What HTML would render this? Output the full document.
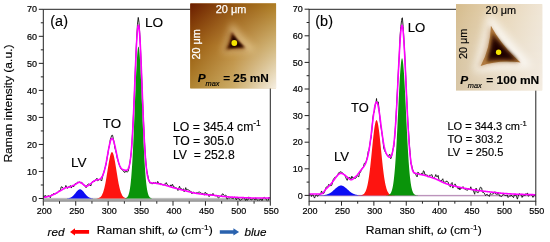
<!DOCTYPE html>
<html><head><meta charset="utf-8"><style>
html,body{margin:0;padding:0;background:#fff;width:550px;height:242px;overflow:hidden}
svg{display:block;will-change:transform}
text{font-family:"Liberation Sans",sans-serif;stroke:#000;stroke-width:0.15} text.k{stroke-width:0.2}
</style></head><body>
<svg width="550" height="242" viewBox="0 0 550 242" fill="#000">
<clipPath id="clip1"><rect x="43.3" y="9.3" width="227.0" height="191.89999999999998"/></clipPath>
<g clip-path="url(#clip1)">
<rect x="43.3" y="197.8" width="227.0" height="0.8" fill="#d4d4d4"/><rect x="43.3" y="198.4" width="227.0" height="3.1" fill="#a8a8a8"/>
<path d="M62.37,198.5 L62.81,198.5 L63.25,198.49 L63.69,198.49 L64.13,198.49 L64.57,198.48 L65.01,198.47 L65.46,198.46 L65.9,198.45 L66.34,198.42 L66.78,198.4 L67.22,198.36 L67.66,198.32 L68.1,198.26 L68.54,198.19 L68.98,198.1 L69.42,197.98 L69.87,197.85 L70.31,197.68 L70.75,197.49 L71.19,197.26 L71.63,196.99 L72.07,196.68 L72.51,196.33 L72.95,195.94 L73.39,195.52 L73.83,195.05 L74.28,194.55 L74.72,194.03 L75.16,193.48 L75.6,192.93 L76.04,192.37 L76.48,191.83 L76.92,191.31 L77.36,190.82 L77.8,190.39 L78.25,190.02 L78.69,189.71 L79.13,189.49 L79.57,189.36 L80.01,189.31 L80.45,189.36 L80.89,189.49 L81.33,189.71 L81.77,190.02 L82.21,190.39 L82.66,190.82 L83.1,191.31 L83.54,191.83 L83.98,192.37 L84.42,192.93 L84.86,193.48 L85.3,194.03 L85.74,194.55 L86.18,195.05 L86.62,195.52 L87.07,195.94 L87.51,196.33 L87.95,196.68 L88.39,196.99 L88.83,197.26 L89.27,197.49 L89.71,197.68 L90.15,197.85 L90.59,197.98 L91.03,198.1 L91.48,198.19 L91.92,198.26 L92.36,198.32 L92.8,198.36 L93.24,198.4 L93.68,198.42 L94.12,198.45 L94.56,198.46 L95,198.47 L95.45,198.48 L95.89,198.49 L96.33,198.49 L96.77,198.49 L97.21,198.5 L97.65,198.5 L97.65,198.5 L62.37,198.5 Z" fill="#0c0cf4"/>
<path d="M94.34,198.48 L94.78,198.48 L95.22,198.47 L95.67,198.45 L96.11,198.43 L96.55,198.4 L96.99,198.36 L97.43,198.3 L97.87,198.22 L98.31,198.12 L98.75,197.98 L99.19,197.81 L99.63,197.58 L100.08,197.29 L100.52,196.92 L100.96,196.46 L101.4,195.89 L101.84,195.2 L102.28,194.37 L102.72,193.37 L103.16,192.21 L103.6,190.85 L104.05,189.3 L104.49,187.54 L104.93,185.57 L105.37,183.41 L105.81,181.05 L106.25,178.53 L106.69,175.87 L107.13,173.11 L107.57,170.3 L108.01,167.49 L108.46,164.74 L108.9,162.11 L109.34,159.67 L109.78,157.47 L110.22,155.58 L110.66,154.05 L111.1,152.93 L111.54,152.24 L111.98,152.01 L112.42,152.24 L112.87,152.93 L113.31,154.05 L113.75,155.58 L114.19,157.47 L114.63,159.67 L115.07,162.11 L115.51,164.74 L115.95,167.49 L116.39,170.3 L116.84,173.11 L117.28,175.87 L117.72,178.53 L118.16,181.05 L118.6,183.41 L119.04,185.57 L119.48,187.54 L119.92,189.3 L120.36,190.85 L120.8,192.21 L121.25,193.37 L121.69,194.37 L122.13,195.2 L122.57,195.89 L123.01,196.46 L123.45,196.92 L123.89,197.29 L124.33,197.58 L124.77,197.81 L125.21,197.98 L125.66,198.12 L126.1,198.22 L126.54,198.3 L126.98,198.36 L127.42,198.4 L127.86,198.43 L128.3,198.45 L128.74,198.47 L129.18,198.48 L129.62,198.48 L129.62,198.5 L94.34,198.5 Z" fill="#fe1410"/>
<path d="M123.92,198.45 L124.28,198.42 L124.64,198.39 L125.01,198.34 L125.37,198.27 L125.73,198.17 L126.1,198.03 L126.46,197.84 L126.82,197.59 L127.19,197.26 L127.55,196.81 L127.91,196.23 L128.28,195.49 L128.64,194.53 L129,193.33 L129.37,191.83 L129.73,189.97 L130.09,187.71 L130.46,184.99 L130.82,181.75 L131.18,177.94 L131.54,173.51 L131.91,168.44 L132.27,162.69 L132.63,156.26 L133,149.18 L133.36,141.49 L133.72,133.25 L134.09,124.56 L134.45,115.55 L134.81,106.36 L135.18,97.18 L135.54,88.19 L135.9,79.6 L136.27,71.62 L136.63,64.44 L136.99,58.27 L137.36,53.28 L137.72,49.6 L138.08,47.35 L138.45,46.59 L138.81,47.35 L139.17,49.6 L139.54,53.28 L139.9,58.27 L140.26,64.44 L140.62,71.62 L140.99,79.6 L141.35,88.19 L141.71,97.18 L142.08,106.36 L142.44,115.55 L142.8,124.56 L143.17,133.25 L143.53,141.49 L143.89,149.18 L144.26,156.26 L144.62,162.69 L144.98,168.44 L145.35,173.51 L145.71,177.94 L146.07,181.75 L146.44,184.99 L146.8,187.71 L147.16,189.97 L147.53,191.83 L147.89,193.33 L148.25,194.53 L148.62,195.49 L148.98,196.23 L149.34,196.81 L149.7,197.26 L150.07,197.59 L150.43,197.84 L150.79,198.03 L151.16,198.17 L151.52,198.27 L151.88,198.34 L152.25,198.39 L152.61,198.42 L152.97,198.45 L152.97,198.5 L123.92,198.5 Z" fill="#0a940a"/>
<path d="M43.3,196.87 L44.08,195.55 L44.86,197.26 L45.63,195.38 L46.41,196.73 L47.19,196.55 L47.97,195.52 L48.75,196.04 L49.53,196.3 L50.3,197.75 L51.08,195.17 L51.86,194.77 L52.64,194.66 L53.42,193.55 L54.2,193.94 L54.97,193.66 L55.75,193.95 L56.53,192.96 L57.31,192.83 L58.09,192.07 L58.87,190.74 L59.64,191.01 L60.42,189.86 L61.2,186.95 L61.98,186.75 L62.76,188.04 L63.54,188.43 L64.31,188.73 L65.09,188.26 L65.87,185.44 L66.65,187.1 L67.43,188.43 L68.21,187.14 L68.98,186.41 L69.76,186.32 L70.54,185.68 L71.32,188.06 L72.1,186.3 L72.87,185.94 L73.65,186.86 L74.43,184.84 L75.21,183.5 L75.99,183.73 L76.77,183.7 L77.54,182.12 L78.32,182.33 L79.1,182.18 L79.88,181.93 L80.66,183.19 L81.44,182.28 L82.21,182.89 L82.99,183.62 L83.77,185.29 L84.55,185 L85.33,186.85 L86.11,187.7 L86.88,185.38 L87.66,184.45 L88.44,184.02 L89.22,184.58 L90,185.03 L90.78,186.03 L91.55,183.13 L92.33,181.67 L93.11,180.9 L93.89,181.64 L94.67,181.47 L95.45,180.14 L96.22,178.98 L97,178.2 L97.78,180.81 L98.56,180.29 L99.34,179.05 L100.11,179.85 L100.89,179.9 L101.67,180.93 L102.45,177.17 L103.23,173.79 L104.01,171.72 L104.78,168.73 L105.56,166.15 L106.34,162.87 L107.12,157.7 L107.9,153.79 L108.68,148.47 L109.45,145.7 L110.23,139.92 L111.01,137.43 L111.79,135.31 L111.98,135.05 L112.57,135.27 L113.35,138.81 L114.12,142.53 L114.9,148.11 L115.68,150.42 L116.46,153.73 L117.24,158.17 L118.02,160.43 L118.79,163.39 L119.57,165.28 L120.35,167.35 L121.13,169.05 L121.91,169.28 L122.69,170.56 L123.46,171 L124.24,172.24 L124.37,172.32 L125.02,172.5 L125.8,169.98 L126.58,171.9 L127.35,171.91 L128.13,171.36 L128.91,168.22 L129.69,163.61 L130.47,158.83 L131.25,152.82 L132.02,142.12 L132.8,128.57 L133.58,112.12 L134.36,94.1 L135.14,74.53 L135.92,54.94 L136.69,37.93 L137.47,24.38 L138.25,17.41 L138.32,17.64 L139.03,22.45 L139.81,34.43 L140.59,50.58 L141.36,69.29 L142.14,89.3 L142.92,108.26 L143.7,124.62 L144.48,141.41 L145.26,154.26 L146.03,163.94 L146.81,170.89 L147.59,174.55 L148.37,178.38 L149.15,181.07 L149.93,183.31 L150.7,182.85 L151.48,183.56 L152.26,183.99 L153.04,182.93 L153.82,182.32 L154.59,183.09 L155.37,182.46 L156.15,183.1 L156.93,183.66 L157.71,181.39 L158.49,183.19 L159.26,183.77 L160.04,183.05 L160.82,184.61 L161.6,183.87 L162.38,184.84 L163.16,184.77 L163.93,184.89 L164.71,183.86 L165.49,184.28 L166.27,182.6 L167.05,184.36 L167.83,184.95 L168.6,185.58 L169.38,186.26 L170.16,185.98 L170.94,184.79 L171.72,186.34 L172.5,184.27 L173.27,185.88 L174.05,187.22 L174.83,187.16 L175.61,187.72 L176.39,187.95 L177.17,188.45 L177.94,190.55 L178.72,188.29 L179.5,186.23 L180.28,188.43 L181.06,188.34 L181.83,189.08 L182.61,189.56 L183.39,188.69 L184.17,191.81 L184.95,190.11 L185.73,187.62 L186.5,189.91 L187.28,189.47 L188.06,190.02 L188.84,189.95 L189.62,190.66 L190.4,191.3 L191.17,191.39 L191.95,193.85 L192.73,192.45 L193.51,192.24 L194.29,192.46 L195.07,193.52 L195.84,193.3 L196.62,192.67 L197.4,192.77 L198.18,192.18 L198.96,192.46 L199.74,191.98 L200.51,192.52 L201.29,193.2 L202.07,193.77 L202.85,193.18 L203.63,194.47 L204.41,195.04 L205.18,192.2 L205.96,193.41 L206.74,193.5 L207.52,194.02 L208.3,194.58 L209.07,196.68 L209.85,195.67 L210.63,194.39 L211.41,194.69 L212.19,195.26 L212.97,193.4 L213.74,195.5 L214.52,195.47 L215.3,196.08 L216.08,195.17 L216.86,196.03 L217.64,197.11 L218.41,197.98 L219.19,197.21 L219.97,196.86 L220.75,196.17 L221.53,195.82 L222.31,193.93 L223.08,193.9 L223.86,195.27 L224.64,195.87 L225.42,195.29 L226.2,195.4 L226.98,199.18 L227.75,198.64 L228.53,197.79 L229.31,198.43 L230.09,197.38 L230.87,197.83 L231.65,198.03 L232.42,198.22 L233.2,198.76 L233.98,197.25 L234.76,197.19 L235.54,197.9 L236.31,199.89 L237.09,198.34 L237.87,197.77 L238.65,198.87 L239.43,198.99 L240.21,200.96 L240.98,200.3 L241.76,199.25 L242.54,198.61 L243.32,198.21 L244.1,197.36 L244.88,199.14 L245.65,200.95 L246.43,198.66 L247.21,200.44 L247.99,199.98 L248.77,196.88 L249.55,197.9 L250.32,199.31 L251.1,200.1 L251.88,199.47 L252.66,199.13 L253.44,198.04 L254.22,199.28 L254.99,200.22 L255.77,197.82 L256.55,198.79 L257.33,200.45 L258.11,200.53 L258.89,199.69 L259.66,200.39 L260.44,199.07 L261.22,199.27 L262,201.03 L262.78,198.6 L263.55,197.88 L264.33,197.37 L265.11,198.26 L265.89,198.69 L266.67,200.25 L267.45,201.86 L268.22,200.56 L269,197.03 L269.78,198.09" fill="none" stroke="#111" stroke-width="0.9" stroke-linejoin="round"/>
<path d="M43.3,197.36 L43.62,197.33 L43.95,197.29 L44.27,197.25 L44.6,197.21 L44.92,197.16 L45.25,197.11 L45.57,197.05 L45.89,196.99 L46.22,196.93 L46.54,196.86 L46.87,196.79 L47.19,196.72 L47.52,196.65 L47.84,196.58 L48.16,196.5 L48.49,196.42 L48.81,196.34 L49.14,196.27 L49.46,196.19 L49.79,196.1 L50.11,196 L50.43,195.89 L50.76,195.77 L51.08,195.64 L51.41,195.51 L51.73,195.37 L52.06,195.22 L52.38,195.07 L52.7,194.92 L53.03,194.76 L53.35,194.6 L53.68,194.44 L54,194.28 L54.33,194.13 L54.65,193.97 L54.97,193.8 L55.3,193.63 L55.62,193.46 L55.95,193.28 L56.27,193.1 L56.6,192.91 L56.92,192.73 L57.24,192.54 L57.57,192.35 L57.89,192.15 L58.22,191.96 L58.54,191.77 L58.87,191.58 L59.19,191.39 L59.51,191.21 L59.84,191.03 L60.16,190.85 L60.49,190.68 L60.81,190.5 L61.14,190.32 L61.46,190.13 L61.78,189.92 L62.11,189.72 L62.43,189.5 L62.76,189.29 L63.08,189.08 L63.41,188.87 L63.73,188.67 L64.05,188.48 L64.38,188.3 L64.7,188.13 L65.03,187.98 L65.35,187.84 L65.68,187.72 L66,187.63 L66.32,187.56 L66.65,187.51 L66.97,187.48 L67.3,187.46 L67.62,187.43 L67.95,187.39 L68.27,187.35 L68.59,187.3 L68.92,187.24 L69.24,187.17 L69.57,187.09 L69.89,186.99 L70.22,186.89 L70.54,186.77 L70.86,186.63 L71.19,186.47 L71.51,186.29 L71.84,186.1 L72.16,185.89 L72.49,185.72 L72.81,185.57 L73.13,185.44 L73.46,185.33 L73.78,185.21 L74.11,185.1 L74.43,184.97 L74.76,184.82 L75.08,184.64 L75.4,184.44 L75.73,184.2 L76.05,183.95 L76.38,183.7 L76.7,183.46 L77.03,183.24 L77.35,183.04 L77.67,182.85 L78,182.69 L78.32,182.55 L78.65,182.44 L78.97,182.35 L79.3,182.3 L79.62,182.27 L79.94,182.3 L80.27,182.37 L80.59,182.48 L80.92,182.64 L81.24,182.83 L81.57,183.06 L81.89,183.31 L82.21,183.57 L82.54,183.84 L82.86,184.1 L83.19,184.37 L83.51,184.63 L83.84,184.88 L84.16,185.13 L84.48,185.37 L84.81,185.59 L85.13,185.81 L85.46,186.01 L85.78,186.19 L86.11,186.3 L86.43,186.34 L86.75,186.3 L87.08,186.21 L87.4,186.07 L87.73,185.88 L88.05,185.65 L88.38,185.4 L88.7,185.12 L89.02,184.84 L89.35,184.55 L89.67,184.27 L90,184.01 L90.32,183.77 L90.65,183.57 L90.97,183.37 L91.29,183.15 L91.62,182.91 L91.94,182.67 L92.27,182.42 L92.59,182.17 L92.92,181.91 L93.24,181.66 L93.56,181.42 L93.89,181.19 L94.21,180.96 L94.54,180.76 L94.86,180.57 L95.19,180.4 L95.51,180.25 L95.83,180.12 L96.16,180.02 L96.48,179.95 L96.81,179.9 L97.13,179.87 L97.46,179.83 L97.78,179.79 L98.1,179.73 L98.43,179.66 L98.75,179.58 L99.08,179.47 L99.4,179.34 L99.73,179.18 L100.05,178.99 L100.37,178.76 L100.7,178.48 L101.02,178.15 L101.35,177.77 L101.67,177.32 L102,176.79 L102.32,176.2 L102.64,175.55 L102.97,174.82 L103.29,174.02 L103.62,173.13 L103.94,172.15 L104.27,171.07 L104.59,169.89 L104.91,168.61 L105.24,167.24 L105.56,165.76 L105.89,164.2 L106.21,162.55 L106.54,160.83 L106.86,159.05 L107.18,157.22 L107.51,155.37 L107.83,153.51 L108.16,151.66 L108.48,149.85 L108.81,148.09 L109.13,146.42 L109.45,144.86 L109.78,143.42 L110.1,142.14 L110.43,141.02 L110.75,140.09 L111.08,139.37 L111.4,138.86 L111.72,138.57 L112.05,138.5 L112.37,138.64 L112.7,138.97 L113.02,139.5 L113.35,140.21 L113.67,141.1 L113.99,142.14 L114.32,143.33 L114.64,144.64 L114.97,146.05 L115.29,147.54 L115.62,149.08 L115.94,150.67 L116.26,152.26 L116.59,153.84 L116.91,155.4 L117.24,156.91 L117.56,158.36 L117.89,159.74 L118.21,161.03 L118.53,162.23 L118.86,163.32 L119.18,164.32 L119.51,165.21 L119.83,166.01 L120.16,166.7 L120.48,167.3 L120.8,167.81 L121.13,168.24 L121.45,168.6 L121.78,168.89 L122.1,169.13 L122.43,169.32 L122.75,169.48 L123.07,169.6 L123.4,169.71 L123.72,169.81 L124.05,169.91 L124.37,170.01 L124.7,170.12 L125.02,170.22 L125.34,170.29 L125.67,170.33 L125.99,170.34 L126.32,170.31 L126.64,170.23 L126.97,170.09 L127.29,169.88 L127.61,169.58 L127.94,169.17 L128.26,168.63 L128.59,167.93 L128.91,167.04 L129.24,165.93 L129.56,164.56 L129.88,162.89 L130.21,160.88 L130.53,158.5 L130.86,155.69 L131.18,152.44 L131.51,148.69 L131.83,144.43 L132.15,139.65 L132.48,134.32 L132.8,128.47 L133.13,122.11 L133.45,115.27 L133.78,108.02 L134.1,100.43 L134.42,92.58 L134.75,84.58 L135.07,76.56 L135.4,68.65 L135.72,60.99 L136.05,53.72 L136.37,47 L136.69,40.98 L137.02,35.77 L137.34,31.51 L137.67,28.29 L137.99,26.19 L138.32,25.27 L138.64,25.55 L138.96,27.05 L139.29,29.73 L139.61,33.52 L139.94,38.36 L140.26,44.12 L140.59,50.7 L140.91,57.94 L141.23,65.7 L141.56,73.84 L141.88,82.2 L142.21,90.65 L142.53,99.04 L142.86,107.27 L143.18,115.22 L143.5,122.81 L143.83,129.96 L144.15,136.63 L144.48,142.78 L144.8,148.39 L145.13,153.45 L145.45,157.97 L145.77,161.97 L146.1,165.48 L146.42,168.53 L146.75,171.14 L147.07,173.38 L147.4,175.26 L147.72,176.84 L148.04,178.14 L148.37,179.21 L148.69,180.07 L149.02,180.76 L149.34,181.3 L149.67,181.72 L149.99,182.05 L150.31,182.31 L150.64,182.51 L150.96,182.67 L151.29,182.79 L151.61,182.88 L151.94,182.95 L152.26,183 L152.58,183.04 L152.91,183.07 L153.23,183.1 L153.56,183.13 L153.88,183.15 L154.21,183.17 L154.53,183.2 L154.85,183.22 L155.18,183.25 L155.5,183.28 L155.83,183.32 L156.15,183.36 L156.48,183.4 L156.8,183.45 L157.12,183.5 L157.45,183.55 L157.77,183.6 L158.1,183.66 L158.42,183.72 L158.75,183.78 L159.07,183.85 L159.39,183.91 L159.72,183.98 L160.04,184.05 L160.37,184.12 L160.69,184.19 L161.02,184.26 L161.34,184.34 L161.66,184.41 L161.99,184.49 L162.31,184.56 L162.64,184.64 L162.96,184.71 L163.29,184.79 L163.61,184.86 L163.93,184.93 L164.26,185.01 L164.58,185.09 L164.91,185.17 L165.23,185.26 L165.56,185.34 L165.88,185.43 L166.2,185.52 L166.53,185.62 L166.85,185.71 L167.18,185.81 L167.5,185.91 L167.83,186.01 L168.15,186.11 L168.47,186.21 L168.8,186.32 L169.12,186.42 L169.45,186.52 L169.77,186.63 L170.1,186.73 L170.42,186.83 L170.74,186.94 L171.07,187.04 L171.39,187.14 L171.72,187.24 L172.04,187.34 L172.37,187.44 L172.69,187.54 L173.01,187.63 L173.34,187.72 L173.66,187.82 L173.99,187.9 L174.31,187.99 L174.64,188.08 L174.96,188.16 L175.28,188.25 L175.61,188.33 L175.93,188.42 L176.26,188.5 L176.58,188.58 L176.91,188.66 L177.23,188.74 L177.55,188.83 L177.88,188.91 L178.2,188.99 L178.53,189.07 L178.85,189.15 L179.18,189.23 L179.5,189.3 L179.82,189.38 L180.15,189.46 L180.47,189.54 L180.8,189.62 L181.12,189.7 L181.45,189.78 L181.77,189.86 L182.09,189.94 L182.42,190.02 L182.74,190.1 L183.07,190.18 L183.39,190.26 L183.72,190.34 L184.04,190.42 L184.36,190.51 L184.69,190.59 L185.01,190.68 L185.34,190.76 L185.66,190.85 L185.99,190.94 L186.31,191.03 L186.63,191.12 L186.96,191.21 L187.28,191.3 L187.61,191.39 L187.93,191.48 L188.26,191.57 L188.58,191.66 L188.9,191.75 L189.23,191.83 L189.55,191.92 L189.88,192.01 L190.2,192.09 L190.53,192.18 L190.85,192.26 L191.17,192.34 L191.5,192.42 L191.82,192.49 L192.15,192.57 L192.47,192.64 L192.8,192.71 L193.12,192.78 L193.44,192.84 L193.77,192.9 L194.09,192.97 L194.42,193.02 L194.74,193.08 L195.07,193.14 L195.39,193.2 L195.71,193.25 L196.04,193.31 L196.36,193.36 L196.69,193.42 L197.01,193.47 L197.34,193.52 L197.66,193.57 L197.98,193.62 L198.31,193.67 L198.63,193.72 L198.96,193.77 L199.28,193.81 L199.61,193.86 L199.93,193.9 L200.25,193.95 L200.58,193.99 L200.9,194.04 L201.23,194.08 L201.55,194.12 L201.88,194.16 L202.2,194.2 L202.52,194.24 L202.85,194.28 L203.17,194.32 L203.5,194.35 L203.82,194.39 L204.15,194.43 L204.47,194.46 L204.79,194.5 L205.12,194.53 L205.44,194.56 L205.77,194.59 L206.09,194.62 L206.42,194.65 L206.74,194.68 L207.06,194.71 L207.39,194.74 L207.71,194.76 L208.04,194.79 L208.36,194.82 L208.69,194.84 L209.01,194.87 L209.33,194.9 L209.66,194.92 L209.98,194.95 L210.31,194.97 L210.63,195 L210.96,195.03 L211.28,195.06 L211.6,195.08 L211.93,195.11 L212.25,195.14 L212.58,195.17 L212.9,195.2 L213.23,195.23 L213.55,195.26 L213.87,195.3 L214.2,195.33 L214.52,195.37 L214.85,195.4 L215.17,195.44 L215.5,195.48 L215.82,195.52 L216.14,195.56 L216.47,195.6 L216.79,195.64 L217.12,195.69 L217.44,195.73 L217.77,195.77 L218.09,195.82 L218.41,195.86 L218.74,195.9 L219.06,195.94 L219.39,195.99 L219.71,196.03 L220.04,196.07 L220.36,196.11 L220.68,196.15 L221.01,196.19 L221.33,196.23 L221.66,196.27 L221.98,196.3 L222.31,196.33 L222.63,196.37 L222.95,196.4 L223.28,196.43 L223.6,196.46 L223.93,196.49 L224.25,196.52 L224.58,196.54 L224.9,196.57 L225.22,196.6 L225.55,196.63 L225.87,196.65 L226.2,196.68 L226.52,196.71 L226.85,196.73 L227.17,196.76 L227.49,196.78 L227.82,196.81 L228.14,196.83 L228.47,196.86 L228.79,196.88 L229.12,196.9 L229.44,196.93 L229.76,196.95 L230.09,196.97 L230.41,196.99 L230.74,197.02 L231.06,197.04 L231.39,197.06 L231.71,197.08 L232.03,197.1 L232.36,197.12 L232.68,197.14 L233.01,197.16 L233.33,197.18 L233.66,197.2 L233.98,197.21 L234.3,197.23 L234.63,197.25 L234.95,197.27 L235.28,197.28 L235.6,197.3 L235.93,197.32 L236.25,197.33 L236.57,197.35 L236.9,197.36 L237.22,197.38 L237.55,197.4 L237.87,197.41 L238.2,197.43 L238.52,197.44 L238.84,197.46 L239.17,197.47 L239.49,197.48 L239.82,197.5 L240.14,197.51 L240.47,197.53 L240.79,197.54 L241.11,197.55 L241.44,197.57 L241.76,197.58 L242.09,197.59 L242.41,197.6 L242.74,197.62 L243.06,197.63 L243.38,197.64 L243.71,197.65 L244.03,197.67 L244.36,197.68 L244.68,197.69 L245.01,197.7 L245.33,197.71 L245.65,197.73 L245.98,197.74 L246.3,197.75 L246.63,197.76 L246.95,197.78 L247.28,197.79 L247.6,197.8 L247.92,197.82 L248.25,197.83 L248.57,197.84 L248.9,197.85 L249.22,197.87 L249.55,197.88 L249.87,197.89 L250.19,197.9 L250.52,197.91 L250.84,197.92 L251.17,197.94 L251.49,197.95 L251.82,197.95 L252.14,197.96 L252.46,197.97 L252.79,197.98 L253.11,197.99 L253.44,197.99 L253.76,198 L254.09,198 L254.41,198.01 L254.73,198.01 L255.06,198.01 L255.38,198.01 L255.71,198.01 L256.03,198.01 L256.36,198.01 L256.68,198.01 L257,198.01 L257.33,198.01 L257.65,198.01 L257.98,198.01 L258.3,198.01 L258.63,198.01 L258.95,198.01 L259.27,198.01 L259.6,198.01 L259.92,198.01 L260.25,198.01 L260.57,198.01 L260.9,198.01 L261.22,198.01 L261.54,198.01 L261.87,198.01 L262.19,198.01 L262.52,198.01 L262.84,198.01 L263.17,198.01 L263.49,198.01 L263.81,198.01 L264.14,198.01 L264.46,198.01 L264.79,198.01 L265.11,198.01 L265.44,198.01 L265.76,198.01 L266.08,198.01 L266.41,198.01 L266.73,198.01 L267.06,198.01 L267.38,198.01 L267.71,198.01 L268.03,198.01 L268.35,198.01 L268.68,198.01 L269,198.01 L269.33,198.01 L269.65,198.01 L269.98,198.01 L270.3,198.01" fill="none" stroke="#ff00ff" stroke-width="1.6" stroke-linejoin="round"/>
</g>
<path d="M43.3,201.2 V9.3 H270.3 V201.2" fill="none" stroke="#222" stroke-width="1"/>
<line x1="42.8" y1="201.2" x2="270.8" y2="201.2" stroke="#8c8c8c" stroke-width="1"/>
<line x1="38.8" y1="198.5" x2="43.3" y2="198.5" stroke="#222" stroke-width="1"/>
<text x="37" y="201.7" text-anchor="end" font-size="9" class="k">0</text>
<line x1="40.8" y1="184.99" x2="43.3" y2="184.99" stroke="#222" stroke-width="1"/>
<line x1="38.8" y1="171.47" x2="43.3" y2="171.47" stroke="#222" stroke-width="1"/>
<text x="37" y="174.67" text-anchor="end" font-size="9" class="k">10</text>
<line x1="40.8" y1="157.96" x2="43.3" y2="157.96" stroke="#222" stroke-width="1"/>
<line x1="38.8" y1="144.44" x2="43.3" y2="144.44" stroke="#222" stroke-width="1"/>
<text x="37" y="147.64" text-anchor="end" font-size="9" class="k">20</text>
<line x1="40.8" y1="130.93" x2="43.3" y2="130.93" stroke="#222" stroke-width="1"/>
<line x1="38.8" y1="117.41" x2="43.3" y2="117.41" stroke="#222" stroke-width="1"/>
<text x="37" y="120.61" text-anchor="end" font-size="9" class="k">30</text>
<line x1="40.8" y1="103.9" x2="43.3" y2="103.9" stroke="#222" stroke-width="1"/>
<line x1="38.8" y1="90.38" x2="43.3" y2="90.38" stroke="#222" stroke-width="1"/>
<text x="37" y="93.58" text-anchor="end" font-size="9" class="k">40</text>
<line x1="40.8" y1="76.87" x2="43.3" y2="76.87" stroke="#222" stroke-width="1"/>
<line x1="38.8" y1="63.35" x2="43.3" y2="63.35" stroke="#222" stroke-width="1"/>
<text x="37" y="66.55" text-anchor="end" font-size="9" class="k">50</text>
<line x1="40.8" y1="49.84" x2="43.3" y2="49.84" stroke="#222" stroke-width="1"/>
<line x1="38.8" y1="36.32" x2="43.3" y2="36.32" stroke="#222" stroke-width="1"/>
<text x="37" y="39.52" text-anchor="end" font-size="9" class="k">60</text>
<line x1="40.8" y1="22.81" x2="43.3" y2="22.81" stroke="#222" stroke-width="1"/>
<line x1="38.8" y1="9.29" x2="43.3" y2="9.29" stroke="#222" stroke-width="1"/>
<text x="37" y="12.49" text-anchor="end" font-size="9" class="k">70</text>
<line x1="43.3" y1="201.2" x2="43.3" y2="205.7" stroke="#222" stroke-width="1"/>
<text x="44.3" y="214.3" text-anchor="middle" font-size="9" class="k">200</text>
<line x1="59.51" y1="201.2" x2="59.51" y2="203.7" stroke="#222" stroke-width="1"/>
<line x1="75.73" y1="201.2" x2="75.73" y2="205.7" stroke="#222" stroke-width="1"/>
<text x="76.73" y="214.3" text-anchor="middle" font-size="9" class="k">250</text>
<line x1="91.94" y1="201.2" x2="91.94" y2="203.7" stroke="#222" stroke-width="1"/>
<line x1="108.16" y1="201.2" x2="108.16" y2="205.7" stroke="#222" stroke-width="1"/>
<text x="109.16" y="214.3" text-anchor="middle" font-size="9" class="k">300</text>
<line x1="124.37" y1="201.2" x2="124.37" y2="203.7" stroke="#222" stroke-width="1"/>
<line x1="140.59" y1="201.2" x2="140.59" y2="205.7" stroke="#222" stroke-width="1"/>
<text x="141.59" y="214.3" text-anchor="middle" font-size="9" class="k">350</text>
<line x1="156.8" y1="201.2" x2="156.8" y2="203.7" stroke="#222" stroke-width="1"/>
<line x1="173.01" y1="201.2" x2="173.01" y2="205.7" stroke="#222" stroke-width="1"/>
<text x="174.01" y="214.3" text-anchor="middle" font-size="9" class="k">400</text>
<line x1="189.23" y1="201.2" x2="189.23" y2="203.7" stroke="#222" stroke-width="1"/>
<line x1="205.44" y1="201.2" x2="205.44" y2="205.7" stroke="#222" stroke-width="1"/>
<text x="206.44" y="214.3" text-anchor="middle" font-size="9" class="k">450</text>
<line x1="221.66" y1="201.2" x2="221.66" y2="203.7" stroke="#222" stroke-width="1"/>
<line x1="237.87" y1="201.2" x2="237.87" y2="205.7" stroke="#222" stroke-width="1"/>
<text x="238.87" y="214.3" text-anchor="middle" font-size="9" class="k">500</text>
<line x1="254.09" y1="201.2" x2="254.09" y2="203.7" stroke="#222" stroke-width="1"/>
<line x1="270.3" y1="201.2" x2="270.3" y2="205.7" stroke="#222" stroke-width="1"/>
<text x="271.3" y="214.3" text-anchor="middle" font-size="9" class="k">550</text>
<text transform="translate(50.3,26.2) scale(0.95,1)" font-size="15.2">(a)</text>
<text transform="translate(144.9,27.1) scale(1.08,1)" font-size="12.6">LO</text>
<text transform="translate(102.8,127.7) scale(1.05,1)" font-size="12.7">TO</text>
<text transform="translate(71.1,167.4) scale(1.07,1)" font-size="12.6">LV</text>
<text x="173" y="130.8" font-size="12.2">LO = 345.4 cm<tspan dy="-4.9" font-size="8.5">-1</tspan></text><text x="173" y="144.7" font-size="12.2">TO = 305.0</text><text x="173" y="158.6" font-size="12.2" xml:space="preserve">LV  = 252.8</text>
<clipPath id="ica"><rect x="190.2" y="3.2" width="86" height="85.3"/></clipPath>
<g clip-path="url(#ica)">
<defs><linearGradient id="ma0"><stop offset="0" stop-color="#6b1d00"/><stop offset=".5" stop-color="#925511"/><stop offset="1" stop-color="#ae7d23"/></linearGradient><linearGradient id="ma1"><stop offset="0" stop-color="#6c1e00"/><stop offset=".5" stop-color="#935612"/><stop offset="1" stop-color="#af7e25"/></linearGradient><linearGradient id="ma2"><stop offset="0" stop-color="#6d2001"/><stop offset=".5" stop-color="#945713"/><stop offset="1" stop-color="#b08027"/></linearGradient><linearGradient id="ma3"><stop offset="0" stop-color="#6e2101"/><stop offset=".5" stop-color="#955814"/><stop offset="1" stop-color="#b1812a"/></linearGradient><linearGradient id="ma4"><stop offset="0" stop-color="#6f2301"/><stop offset=".5" stop-color="#965a15"/><stop offset="1" stop-color="#b2822c"/></linearGradient><linearGradient id="ma5"><stop offset="0" stop-color="#702402"/><stop offset=".5" stop-color="#975b16"/><stop offset="1" stop-color="#b3842e"/></linearGradient><linearGradient id="ma6"><stop offset="0" stop-color="#712502"/><stop offset=".5" stop-color="#985c17"/><stop offset="1" stop-color="#b48530"/></linearGradient><linearGradient id="ma7"><stop offset="0" stop-color="#722702"/><stop offset=".5" stop-color="#995e18"/><stop offset="1" stop-color="#b48732"/></linearGradient><linearGradient id="ma8"><stop offset="0" stop-color="#732803"/><stop offset=".5" stop-color="#9a5f19"/><stop offset="1" stop-color="#b58834"/></linearGradient><linearGradient id="ma9"><stop offset="0" stop-color="#742a03"/><stop offset=".5" stop-color="#9b601a"/><stop offset="1" stop-color="#b68937"/></linearGradient><linearGradient id="ma10"><stop offset="0" stop-color="#752b03"/><stop offset=".5" stop-color="#9c611b"/><stop offset="1" stop-color="#b78b39"/></linearGradient><linearGradient id="ma11"><stop offset="0" stop-color="#762d04"/><stop offset=".5" stop-color="#9d631c"/><stop offset="1" stop-color="#b88c3b"/></linearGradient><linearGradient id="ma12"><stop offset="0" stop-color="#782e04"/><stop offset=".5" stop-color="#9e641d"/><stop offset="1" stop-color="#b98e3d"/></linearGradient><linearGradient id="ma13"><stop offset="0" stop-color="#793004"/><stop offset=".5" stop-color="#9f651e"/><stop offset="1" stop-color="#b98f3f"/></linearGradient><linearGradient id="ma14"><stop offset="0" stop-color="#7a3105"/><stop offset=".5" stop-color="#a0661f"/><stop offset="1" stop-color="#ba9041"/></linearGradient><linearGradient id="ma15"><stop offset="0" stop-color="#7b3305"/><stop offset=".5" stop-color="#a16820"/><stop offset="1" stop-color="#bb9244"/></linearGradient><linearGradient id="ma16"><stop offset="0" stop-color="#7c3405"/><stop offset=".5" stop-color="#a26921"/><stop offset="1" stop-color="#bc9346"/></linearGradient><linearGradient id="ma17"><stop offset="0" stop-color="#7d3606"/><stop offset=".5" stop-color="#a36a22"/><stop offset="1" stop-color="#bd9548"/></linearGradient><linearGradient id="ma18"><stop offset="0" stop-color="#7e3706"/><stop offset=".5" stop-color="#a46c23"/><stop offset="1" stop-color="#be964a"/></linearGradient><linearGradient id="ma19"><stop offset="0" stop-color="#7f3806"/><stop offset=".5" stop-color="#a56d24"/><stop offset="1" stop-color="#bf984c"/></linearGradient><linearGradient id="ma20"><stop offset="0" stop-color="#803a07"/><stop offset=".5" stop-color="#a66e25"/><stop offset="1" stop-color="#bf994e"/></linearGradient><linearGradient id="ma21"><stop offset="0" stop-color="#813b07"/><stop offset=".5" stop-color="#a76f26"/><stop offset="1" stop-color="#c09a51"/></linearGradient><linearGradient id="ma22"><stop offset="0" stop-color="#823d07"/><stop offset=".5" stop-color="#a87127"/><stop offset="1" stop-color="#c19c53"/></linearGradient><linearGradient id="ma23"><stop offset="0" stop-color="#833e08"/><stop offset=".5" stop-color="#a97228"/><stop offset="1" stop-color="#c29d55"/></linearGradient><linearGradient id="ma24"><stop offset="0" stop-color="#854008"/><stop offset=".5" stop-color="#aa7329"/><stop offset="1" stop-color="#c39f57"/></linearGradient><linearGradient id="ma25"><stop offset="0" stop-color="#864108"/><stop offset=".5" stop-color="#ab742a"/><stop offset="1" stop-color="#c4a059"/></linearGradient><linearGradient id="ma26"><stop offset="0" stop-color="#874309"/><stop offset=".5" stop-color="#ac762b"/><stop offset="1" stop-color="#c4a15b"/></linearGradient><linearGradient id="ma27"><stop offset="0" stop-color="#884409"/><stop offset=".5" stop-color="#ad772c"/><stop offset="1" stop-color="#c5a35e"/></linearGradient><linearGradient id="ma28"><stop offset="0" stop-color="#894609"/><stop offset=".5" stop-color="#ae782e"/><stop offset="1" stop-color="#c6a460"/></linearGradient><linearGradient id="ma29"><stop offset="0" stop-color="#8a470a"/><stop offset=".5" stop-color="#af792f"/><stop offset="1" stop-color="#c7a662"/></linearGradient><linearGradient id="ma30"><stop offset="0" stop-color="#8b480a"/><stop offset=".5" stop-color="#b07b30"/><stop offset="1" stop-color="#c8a764"/></linearGradient><linearGradient id="ma31"><stop offset="0" stop-color="#8c4a0a"/><stop offset=".5" stop-color="#b17c31"/><stop offset="1" stop-color="#c9a866"/></linearGradient><linearGradient id="ma32"><stop offset="0" stop-color="#8d4b0b"/><stop offset=".5" stop-color="#b27d32"/><stop offset="1" stop-color="#caaa68"/></linearGradient><linearGradient id="ma33"><stop offset="0" stop-color="#8e4d0b"/><stop offset=".5" stop-color="#b37f33"/><stop offset="1" stop-color="#caab6b"/></linearGradient><linearGradient id="ma34"><stop offset="0" stop-color="#8f4e0b"/><stop offset=".5" stop-color="#b48034"/><stop offset="1" stop-color="#cbad6d"/></linearGradient><linearGradient id="ma35"><stop offset="0" stop-color="#90500c"/><stop offset=".5" stop-color="#b58135"/><stop offset="1" stop-color="#ccae6f"/></linearGradient><linearGradient id="ma36"><stop offset="0" stop-color="#92510c"/><stop offset=".5" stop-color="#b68236"/><stop offset="1" stop-color="#cdb071"/></linearGradient><linearGradient id="ma37"><stop offset="0" stop-color="#93530c"/><stop offset=".5" stop-color="#b78437"/><stop offset="1" stop-color="#ceb173"/></linearGradient><linearGradient id="ma38"><stop offset="0" stop-color="#94540d"/><stop offset=".5" stop-color="#b88538"/><stop offset="1" stop-color="#cfb275"/></linearGradient><linearGradient id="ma39"><stop offset="0" stop-color="#95560d"/><stop offset=".5" stop-color="#b98639"/><stop offset="1" stop-color="#cfb478"/></linearGradient><linearGradient id="ma40"><stop offset="0" stop-color="#96570d"/><stop offset=".5" stop-color="#ba873a"/><stop offset="1" stop-color="#d0b57a"/></linearGradient><linearGradient id="ma41"><stop offset="0" stop-color="#97590e"/><stop offset=".5" stop-color="#bb893b"/><stop offset="1" stop-color="#d1b77c"/></linearGradient><linearGradient id="ma42"><stop offset="0" stop-color="#985a0e"/><stop offset=".5" stop-color="#bc8a3c"/><stop offset="1" stop-color="#d2b87e"/></linearGradient><linearGradient id="ma43"><stop offset="0" stop-color="#995b0f"/><stop offset=".5" stop-color="#bc8b3d"/><stop offset="1" stop-color="#d3b980"/></linearGradient><linearGradient id="ma44"><stop offset="0" stop-color="#995c10"/><stop offset=".5" stop-color="#bd8c3e"/><stop offset="1" stop-color="#d4bb83"/></linearGradient><linearGradient id="ma45"><stop offset="0" stop-color="#9a5d10"/><stop offset=".5" stop-color="#bd8c3f"/><stop offset="1" stop-color="#d5bc85"/></linearGradient><linearGradient id="ma46"><stop offset="0" stop-color="#9a5e11"/><stop offset=".5" stop-color="#be8d40"/><stop offset="1" stop-color="#d5bd88"/></linearGradient><linearGradient id="ma47"><stop offset="0" stop-color="#9b5f12"/><stop offset=".5" stop-color="#be8e41"/><stop offset="1" stop-color="#d6bf8a"/></linearGradient><linearGradient id="ma48"><stop offset="0" stop-color="#9b6013"/><stop offset=".5" stop-color="#be8f42"/><stop offset="1" stop-color="#d7c08c"/></linearGradient><linearGradient id="ma49"><stop offset="0" stop-color="#9c6114"/><stop offset=".5" stop-color="#bf9043"/><stop offset="1" stop-color="#d8c18f"/></linearGradient><linearGradient id="ma50"><stop offset="0" stop-color="#9d6214"/><stop offset=".5" stop-color="#bf9044"/><stop offset="1" stop-color="#d9c391"/></linearGradient><linearGradient id="ma51"><stop offset="0" stop-color="#9d6315"/><stop offset=".5" stop-color="#bf9145"/><stop offset="1" stop-color="#dac494"/></linearGradient><linearGradient id="ma52"><stop offset="0" stop-color="#9e6416"/><stop offset=".5" stop-color="#c09246"/><stop offset="1" stop-color="#dac596"/></linearGradient><linearGradient id="ma53"><stop offset="0" stop-color="#9e6517"/><stop offset=".5" stop-color="#c09347"/><stop offset="1" stop-color="#dbc698"/></linearGradient><linearGradient id="ma54"><stop offset="0" stop-color="#9f6618"/><stop offset=".5" stop-color="#c19448"/><stop offset="1" stop-color="#dcc89b"/></linearGradient><linearGradient id="ma55"><stop offset="0" stop-color="#9f6718"/><stop offset=".5" stop-color="#c19449"/><stop offset="1" stop-color="#ddc99d"/></linearGradient><linearGradient id="ma56"><stop offset="0" stop-color="#a06819"/><stop offset=".5" stop-color="#c1954a"/><stop offset="1" stop-color="#decaa0"/></linearGradient><linearGradient id="ma57"><stop offset="0" stop-color="#a0691a"/><stop offset=".5" stop-color="#c2964c"/><stop offset="1" stop-color="#dfcca2"/></linearGradient><linearGradient id="ma58"><stop offset="0" stop-color="#a16a1b"/><stop offset=".5" stop-color="#c2974d"/><stop offset="1" stop-color="#e0cda4"/></linearGradient><linearGradient id="ma59"><stop offset="0" stop-color="#a26b1c"/><stop offset=".5" stop-color="#c2984e"/><stop offset="1" stop-color="#e0cea7"/></linearGradient><linearGradient id="ma60"><stop offset="0" stop-color="#a26c1c"/><stop offset=".5" stop-color="#c3984f"/><stop offset="1" stop-color="#e1d0a9"/></linearGradient><linearGradient id="ma61"><stop offset="0" stop-color="#a36d1d"/><stop offset=".5" stop-color="#c39950"/><stop offset="1" stop-color="#e2d1ac"/></linearGradient><linearGradient id="ma62"><stop offset="0" stop-color="#a36e1e"/><stop offset=".5" stop-color="#c49a51"/><stop offset="1" stop-color="#e3d2ae"/></linearGradient><linearGradient id="ma63"><stop offset="0" stop-color="#a46f1f"/><stop offset=".5" stop-color="#c49b52"/><stop offset="1" stop-color="#e4d4b0"/></linearGradient><linearGradient id="ma64"><stop offset="0" stop-color="#a47020"/><stop offset=".5" stop-color="#c49c53"/><stop offset="1" stop-color="#e5d5b3"/></linearGradient><linearGradient id="ma65"><stop offset="0" stop-color="#a57120"/><stop offset=".5" stop-color="#c59c54"/><stop offset="1" stop-color="#e5d6b5"/></linearGradient><linearGradient id="ma66"><stop offset="0" stop-color="#a67221"/><stop offset=".5" stop-color="#c59d55"/><stop offset="1" stop-color="#e6d8b8"/></linearGradient><linearGradient id="ma67"><stop offset="0" stop-color="#a67322"/><stop offset=".5" stop-color="#c59e56"/><stop offset="1" stop-color="#e7d9ba"/></linearGradient><linearGradient id="ma68"><stop offset="0" stop-color="#a77423"/><stop offset=".5" stop-color="#c69f57"/><stop offset="1" stop-color="#e8dabc"/></linearGradient><linearGradient id="ma69"><stop offset="0" stop-color="#a77524"/><stop offset=".5" stop-color="#c6a058"/><stop offset="1" stop-color="#e9dcbf"/></linearGradient><linearGradient id="ma70"><stop offset="0" stop-color="#a87624"/><stop offset=".5" stop-color="#c7a059"/><stop offset="1" stop-color="#eaddc1"/></linearGradient><linearGradient id="ma71"><stop offset="0" stop-color="#a87725"/><stop offset=".5" stop-color="#c7a15a"/><stop offset="1" stop-color="#ebdec4"/></linearGradient><linearGradient id="ma72"><stop offset="0" stop-color="#a97826"/><stop offset=".5" stop-color="#c7a25b"/><stop offset="1" stop-color="#ebe0c6"/></linearGradient><linearGradient id="ma73"><stop offset="0" stop-color="#aa7927"/><stop offset=".5" stop-color="#c8a35c"/><stop offset="1" stop-color="#ece1c8"/></linearGradient><linearGradient id="ma74"><stop offset="0" stop-color="#aa7a28"/><stop offset=".5" stop-color="#c8a45d"/><stop offset="1" stop-color="#ede2cb"/></linearGradient><linearGradient id="ma75"><stop offset="0" stop-color="#ab7b28"/><stop offset=".5" stop-color="#c8a45e"/><stop offset="1" stop-color="#eee3cd"/></linearGradient><linearGradient id="ma76"><stop offset="0" stop-color="#ab7c29"/><stop offset=".5" stop-color="#c9a55f"/><stop offset="1" stop-color="#efe5d0"/></linearGradient><linearGradient id="ma77"><stop offset="0" stop-color="#ac7d2a"/><stop offset=".5" stop-color="#c9a660"/><stop offset="1" stop-color="#f0e6d2"/></linearGradient><linearGradient id="ma78"><stop offset="0" stop-color="#ac7e2b"/><stop offset=".5" stop-color="#caa761"/><stop offset="1" stop-color="#f0e7d4"/></linearGradient><linearGradient id="ma79"><stop offset="0" stop-color="#ad7f2c"/><stop offset=".5" stop-color="#caa862"/><stop offset="1" stop-color="#f1e9d7"/></linearGradient><linearGradient id="ma80"><stop offset="0" stop-color="#ad802c"/><stop offset=".5" stop-color="#caa863"/><stop offset="1" stop-color="#f2ead9"/></linearGradient><linearGradient id="ma81"><stop offset="0" stop-color="#ae812d"/><stop offset=".5" stop-color="#cba964"/><stop offset="1" stop-color="#f3ebdc"/></linearGradient><linearGradient id="ma82"><stop offset="0" stop-color="#af822e"/><stop offset=".5" stop-color="#cbaa65"/><stop offset="1" stop-color="#f4edde"/></linearGradient><linearGradient id="ma83"><stop offset="0" stop-color="#af832f"/><stop offset=".5" stop-color="#cbab66"/><stop offset="1" stop-color="#f5eee0"/></linearGradient><linearGradient id="ma84"><stop offset="0" stop-color="#b08430"/><stop offset=".5" stop-color="#ccac67"/><stop offset="1" stop-color="#f6efe3"/></linearGradient></defs><rect x="190.2" y="3.2" width="86" height="85.3" fill="#bc8a3c"/><rect x="190.2" y="3.2" width="86" height="2" fill="url(#ma0)"/><rect x="190.2" y="4.2" width="86" height="2" fill="url(#ma1)"/><rect x="190.2" y="5.21" width="86" height="2" fill="url(#ma2)"/><rect x="190.2" y="6.21" width="86" height="2" fill="url(#ma3)"/><rect x="190.2" y="7.21" width="86" height="2" fill="url(#ma4)"/><rect x="190.2" y="8.22" width="86" height="2" fill="url(#ma5)"/><rect x="190.2" y="9.22" width="86" height="2" fill="url(#ma6)"/><rect x="190.2" y="10.22" width="86" height="2" fill="url(#ma7)"/><rect x="190.2" y="11.23" width="86" height="2" fill="url(#ma8)"/><rect x="190.2" y="12.23" width="86" height="2" fill="url(#ma9)"/><rect x="190.2" y="13.24" width="86" height="2" fill="url(#ma10)"/><rect x="190.2" y="14.24" width="86" height="2" fill="url(#ma11)"/><rect x="190.2" y="15.24" width="86" height="2" fill="url(#ma12)"/><rect x="190.2" y="16.25" width="86" height="2" fill="url(#ma13)"/><rect x="190.2" y="17.25" width="86" height="2" fill="url(#ma14)"/><rect x="190.2" y="18.25" width="86" height="2" fill="url(#ma15)"/><rect x="190.2" y="19.26" width="86" height="2" fill="url(#ma16)"/><rect x="190.2" y="20.26" width="86" height="2" fill="url(#ma17)"/><rect x="190.2" y="21.26" width="86" height="2" fill="url(#ma18)"/><rect x="190.2" y="22.27" width="86" height="2" fill="url(#ma19)"/><rect x="190.2" y="23.27" width="86" height="2" fill="url(#ma20)"/><rect x="190.2" y="24.27" width="86" height="2" fill="url(#ma21)"/><rect x="190.2" y="25.28" width="86" height="2" fill="url(#ma22)"/><rect x="190.2" y="26.28" width="86" height="2" fill="url(#ma23)"/><rect x="190.2" y="27.28" width="86" height="2" fill="url(#ma24)"/><rect x="190.2" y="28.29" width="86" height="2" fill="url(#ma25)"/><rect x="190.2" y="29.29" width="86" height="2" fill="url(#ma26)"/><rect x="190.2" y="30.3" width="86" height="2" fill="url(#ma27)"/><rect x="190.2" y="31.3" width="86" height="2" fill="url(#ma28)"/><rect x="190.2" y="32.3" width="86" height="2" fill="url(#ma29)"/><rect x="190.2" y="33.31" width="86" height="2" fill="url(#ma30)"/><rect x="190.2" y="34.31" width="86" height="2" fill="url(#ma31)"/><rect x="190.2" y="35.31" width="86" height="2" fill="url(#ma32)"/><rect x="190.2" y="36.32" width="86" height="2" fill="url(#ma33)"/><rect x="190.2" y="37.32" width="86" height="2" fill="url(#ma34)"/><rect x="190.2" y="38.32" width="86" height="2" fill="url(#ma35)"/><rect x="190.2" y="39.33" width="86" height="2" fill="url(#ma36)"/><rect x="190.2" y="40.33" width="86" height="2" fill="url(#ma37)"/><rect x="190.2" y="41.33" width="86" height="2" fill="url(#ma38)"/><rect x="190.2" y="42.34" width="86" height="2" fill="url(#ma39)"/><rect x="190.2" y="43.34" width="86" height="2" fill="url(#ma40)"/><rect x="190.2" y="44.34" width="86" height="2" fill="url(#ma41)"/><rect x="190.2" y="45.35" width="86" height="2" fill="url(#ma42)"/><rect x="190.2" y="46.35" width="86" height="2" fill="url(#ma43)"/><rect x="190.2" y="47.36" width="86" height="2" fill="url(#ma44)"/><rect x="190.2" y="48.36" width="86" height="2" fill="url(#ma45)"/><rect x="190.2" y="49.36" width="86" height="2" fill="url(#ma46)"/><rect x="190.2" y="50.37" width="86" height="2" fill="url(#ma47)"/><rect x="190.2" y="51.37" width="86" height="2" fill="url(#ma48)"/><rect x="190.2" y="52.37" width="86" height="2" fill="url(#ma49)"/><rect x="190.2" y="53.38" width="86" height="2" fill="url(#ma50)"/><rect x="190.2" y="54.38" width="86" height="2" fill="url(#ma51)"/><rect x="190.2" y="55.38" width="86" height="2" fill="url(#ma52)"/><rect x="190.2" y="56.39" width="86" height="2" fill="url(#ma53)"/><rect x="190.2" y="57.39" width="86" height="2" fill="url(#ma54)"/><rect x="190.2" y="58.39" width="86" height="2" fill="url(#ma55)"/><rect x="190.2" y="59.4" width="86" height="2" fill="url(#ma56)"/><rect x="190.2" y="60.4" width="86" height="2" fill="url(#ma57)"/><rect x="190.2" y="61.4" width="86" height="2" fill="url(#ma58)"/><rect x="190.2" y="62.41" width="86" height="2" fill="url(#ma59)"/><rect x="190.2" y="63.41" width="86" height="2" fill="url(#ma60)"/><rect x="190.2" y="64.42" width="86" height="2" fill="url(#ma61)"/><rect x="190.2" y="65.42" width="86" height="2" fill="url(#ma62)"/><rect x="190.2" y="66.42" width="86" height="2" fill="url(#ma63)"/><rect x="190.2" y="67.43" width="86" height="2" fill="url(#ma64)"/><rect x="190.2" y="68.43" width="86" height="2" fill="url(#ma65)"/><rect x="190.2" y="69.43" width="86" height="2" fill="url(#ma66)"/><rect x="190.2" y="70.44" width="86" height="2" fill="url(#ma67)"/><rect x="190.2" y="71.44" width="86" height="2" fill="url(#ma68)"/><rect x="190.2" y="72.44" width="86" height="2" fill="url(#ma69)"/><rect x="190.2" y="73.45" width="86" height="2" fill="url(#ma70)"/><rect x="190.2" y="74.45" width="86" height="2" fill="url(#ma71)"/><rect x="190.2" y="75.45" width="86" height="2" fill="url(#ma72)"/><rect x="190.2" y="76.46" width="86" height="2" fill="url(#ma73)"/><rect x="190.2" y="77.46" width="86" height="2" fill="url(#ma74)"/><rect x="190.2" y="78.46" width="86" height="2" fill="url(#ma75)"/><rect x="190.2" y="79.47" width="86" height="2" fill="url(#ma76)"/><rect x="190.2" y="80.47" width="86" height="2" fill="url(#ma77)"/><rect x="190.2" y="81.48" width="86" height="2" fill="url(#ma78)"/><rect x="190.2" y="82.48" width="86" height="2" fill="url(#ma79)"/><rect x="190.2" y="83.48" width="86" height="2" fill="url(#ma80)"/><rect x="190.2" y="84.49" width="86" height="2" fill="url(#ma81)"/><rect x="190.2" y="85.49" width="86" height="2" fill="url(#ma82)"/><rect x="190.2" y="86.49" width="86" height="2" fill="url(#ma83)"/><rect x="190.2" y="87.5" width="86" height="1" fill="url(#ma84)"/>
<filter id="fa1" x="-1" y="-1" width="3" height="3"><feGaussianBlur stdDeviation="3.5"/></filter><filter id="fa2" x="-1" y="-1" width="3" height="3"><feGaussianBlur stdDeviation="2"/></filter><filter id="fa3" x="-1" y="-1" width="3" height="3"><feGaussianBlur stdDeviation="0.9"/></filter><filter id="fa4" x="-1" y="-1" width="3" height="3"><feGaussianBlur stdDeviation="1.3"/></filter><path d="M231.47,21.67 Q227.62,37.9 221.78,53.21 Q238.91,51.15 256.55,51.12 Q243.27,36.96 231.47,21.67 Z" fill="#f6e2b4" opacity="0.5" filter="url(#fa1)"/><path d="M230.36,30.96 Q228.56,41.5 224.24,50.88 Q234.9,48.94 246.2,49.56 Q237.34,40.97 230.36,30.96 Z" fill="#7a3c06" opacity="0.75" filter="url(#fa2)"/><path d="M231.9,32.3 Q231.19,41.44 226.8,48.9 Q235.48,46.48 245.1,47.8 Q237.13,41.08 231.9,32.3 Z" fill="#4a1400" filter="url(#fa3)"/><path d="M233.26,35.9 Q231.8,42.05 229.58,47.85 Q236.07,47.07 242.76,47.06 Q237.73,41.69 233.26,35.9 Z" fill="#1a0400" filter="url(#fa4)"/><circle cx="234.3" cy="43" r="2.9" fill="#f5e400"/>
</g>
<text x="215.8" y="13" font-size="10.9" fill="#fff" style="stroke:#fff;stroke-width:0.25">20 μm</text><text transform="translate(200.4,59.6) rotate(-90)" font-size="10.9" fill="#fff" style="stroke:#fff;stroke-width:0.25">20 μm</text><text x="197.8" y="82" font-size="11.8" font-weight="bold" font-style="italic">P</text><text x="205.6" y="86" font-size="7.4" font-style="italic">max</text><text x="223.2" y="82" font-size="11.8" font-weight="bold">= 25 mN</text>
<clipPath id="clip2"><rect x="309.1" y="9.3" width="226.69999999999993" height="191.89999999999998"/></clipPath>
<g clip-path="url(#clip2)">
<rect x="309.1" y="194.9" width="226.69999999999993" height="1.4" fill="#bc94bc"/>
<path d="M315.12,195.4 L315.77,195.4 L316.42,195.39 L317.07,195.39 L317.71,195.38 L318.36,195.38 L319.01,195.37 L319.66,195.36 L320.31,195.34 L320.95,195.32 L321.6,195.29 L322.25,195.25 L322.9,195.2 L323.54,195.14 L324.19,195.06 L324.84,194.97 L325.49,194.85 L326.13,194.7 L326.78,194.52 L327.43,194.31 L328.08,194.07 L328.73,193.78 L329.37,193.45 L330.02,193.08 L330.67,192.66 L331.32,192.2 L331.96,191.71 L332.61,191.17 L333.26,190.61 L333.91,190.03 L334.56,189.43 L335.2,188.84 L335.85,188.25 L336.5,187.7 L337.15,187.18 L337.79,186.71 L338.44,186.31 L339.09,185.99 L339.74,185.75 L340.38,185.61 L341.03,185.56 L341.68,185.61 L342.33,185.75 L342.98,185.99 L343.62,186.31 L344.27,186.71 L344.92,187.18 L345.57,187.7 L346.21,188.25 L346.86,188.84 L347.51,189.43 L348.16,190.03 L348.8,190.61 L349.45,191.17 L350.1,191.71 L350.75,192.2 L351.4,192.66 L352.04,193.08 L352.69,193.45 L353.34,193.78 L353.99,194.07 L354.63,194.31 L355.28,194.52 L355.93,194.7 L356.58,194.85 L357.23,194.97 L357.87,195.06 L358.52,195.14 L359.17,195.2 L359.82,195.25 L360.46,195.29 L361.11,195.32 L361.76,195.34 L362.41,195.36 L363.05,195.37 L363.7,195.38 L364.35,195.38 L365,195.39 L365.65,195.39 L366.29,195.4 L366.94,195.4 L366.94,195.4 L315.12,195.4 Z" fill="#0c0cf4"/>
<path d="M358.39,195.37 L358.84,195.36 L359.3,195.34 L359.75,195.32 L360.2,195.28 L360.66,195.24 L361.11,195.17 L361.56,195.07 L362.02,194.95 L362.47,194.78 L362.93,194.56 L363.38,194.28 L363.83,193.91 L364.29,193.43 L364.74,192.84 L365.19,192.09 L365.65,191.17 L366.1,190.05 L366.55,188.71 L367.01,187.1 L367.46,185.21 L367.91,183.02 L368.37,180.5 L368.82,177.65 L369.27,174.47 L369.73,170.96 L370.18,167.15 L370.63,163.06 L371.09,158.76 L371.54,154.29 L371.99,149.74 L372.45,145.19 L372.9,140.74 L373.35,136.48 L373.81,132.52 L374.26,128.97 L374.71,125.91 L375.17,123.43 L375.62,121.61 L376.07,120.5 L376.53,120.12 L376.98,120.5 L377.43,121.61 L377.89,123.43 L378.34,125.91 L378.79,128.97 L379.25,132.52 L379.7,136.48 L380.15,140.74 L380.61,145.19 L381.06,149.74 L381.51,154.29 L381.97,158.76 L382.42,163.06 L382.87,167.15 L383.33,170.96 L383.78,174.47 L384.23,177.65 L384.69,180.5 L385.14,183.02 L385.6,185.21 L386.05,187.1 L386.5,188.71 L386.96,190.05 L387.41,191.17 L387.86,192.09 L388.32,192.84 L388.77,193.43 L389.22,193.91 L389.68,194.28 L390.13,194.56 L390.58,194.78 L391.04,194.95 L391.49,195.07 L391.94,195.17 L392.4,195.24 L392.85,195.28 L393.3,195.32 L393.76,195.34 L394.21,195.36 L394.66,195.37 L394.66,195.4 L358.39,195.4 Z" fill="#fe1410"/>
<path d="M386.24,195.35 L386.64,195.33 L387.03,195.3 L387.43,195.25 L387.82,195.19 L388.22,195.1 L388.61,194.98 L389.01,194.81 L389.4,194.58 L389.8,194.28 L390.19,193.88 L390.59,193.35 L390.98,192.68 L391.38,191.81 L391.77,190.73 L392.17,189.37 L392.56,187.7 L392.96,185.65 L393.35,183.19 L393.75,180.27 L394.14,176.82 L394.54,172.82 L394.94,168.24 L395.33,163.04 L395.73,157.24 L396.12,150.84 L396.52,143.89 L396.91,136.44 L397.31,128.59 L397.7,120.45 L398.1,112.15 L398.49,103.85 L398.89,95.73 L399.28,87.97 L399.68,80.75 L400.07,74.27 L400.47,68.7 L400.86,64.18 L401.26,60.86 L401.65,58.83 L402.05,58.14 L402.44,58.83 L402.84,60.86 L403.23,64.18 L403.63,68.7 L404.02,74.27 L404.42,80.75 L404.81,87.97 L405.21,95.73 L405.6,103.85 L406,112.15 L406.39,120.45 L406.79,128.59 L407.18,136.44 L407.58,143.89 L407.97,150.84 L408.37,157.24 L408.76,163.04 L409.16,168.24 L409.55,172.82 L409.95,176.82 L410.34,180.27 L410.74,183.19 L411.13,185.65 L411.53,187.7 L411.92,189.37 L412.32,190.73 L412.71,191.81 L413.11,192.68 L413.51,193.35 L413.9,193.88 L414.3,194.28 L414.69,194.58 L415.09,194.81 L415.48,194.98 L415.88,195.1 L416.27,195.19 L416.67,195.25 L417.06,195.3 L417.46,195.33 L417.85,195.35 L417.85,195.4 L386.24,195.4 Z" fill="#0a940a"/>
<path d="M309.1,195.45 L309.88,195.17 L310.65,194.14 L311.43,196.53 L312.21,194.95 L312.99,194.49 L313.76,196.62 L314.54,198.1 L315.32,196.29 L316.1,194.8 L316.87,195.14 L317.65,196.44 L318.43,195.3 L319.2,194.41 L319.98,194.7 L320.76,193.52 L321.54,190.96 L322.31,192.8 L323.09,193.57 L323.87,193.39 L324.65,191.59 L325.42,189.51 L326.2,186.97 L326.98,186.97 L327.75,187.24 L328.53,184.49 L329.31,185.21 L330.09,184.69 L330.86,186.03 L331.64,185.46 L332.42,183.12 L333.19,179.42 L333.97,178.8 L334.75,177.33 L335.53,177.22 L336.3,176.99 L337.08,175.85 L337.86,174.46 L338.64,172.79 L339.41,173.23 L340.19,171.61 L340.97,172.36 L341.74,172.08 L342.52,173.28 L343.3,173.59 L344.08,174.88 L344.85,175.36 L345.63,177.1 L346.41,179.12 L347.19,180.36 L347.96,177.84 L348.74,178.03 L349.52,176.98 L350.29,177.99 L351.07,179.07 L351.85,176.18 L352.63,178.03 L353.4,177.72 L354.18,178.19 L354.96,178.58 L355.74,178.21 L356.51,177.15 L357.29,175.25 L358.07,176.42 L358.84,176.72 L359.62,171.81 L360.4,172.52 L361.18,170.41 L361.95,168.91 L362.73,167.68 L363.51,166.47 L364.29,163.31 L365.06,163.1 L365.84,162.24 L366.62,160.1 L367.39,157.03 L368.17,151.56 L368.95,150.57 L369.73,145.17 L370.5,140.28 L371.28,136.65 L372.06,127.74 L372.84,117.95 L373.61,113.18 L374.39,111.56 L375.17,105.07 L375.94,102.99 L376.53,98.5 L376.72,100.72 L377.5,102.92 L378.28,101.87 L379.05,109.7 L379.83,117.19 L380.61,125.07 L381.38,129.29 L382.16,134.65 L382.94,140.37 L383.72,148.09 L384.49,150.25 L385.27,152.05 L386.05,153.34 L386.83,154.99 L387.6,155.58 L388.38,156.73 L389.16,154.65 L389.93,154.32 L390.71,158.77 L391.49,156.93 L392.27,152.98 L393.04,149.08 L393.82,146.7 L394.6,138.65 L395.38,127.63 L396.15,114.6 L396.93,99.12 L397.71,83.79 L398.48,69.08 L399.26,55.95 L400.04,36.85 L400.82,26.57 L401.59,20.53 L402.05,18.03 L402.37,17.79 L403.15,26.68 L403.93,39.72 L404.7,53.69 L405.48,70.2 L406.26,88.48 L407.03,105.09 L407.81,121.01 L408.59,131.81 L409.37,144.78 L410.14,152.6 L410.92,163.63 L411.7,165.37 L412.48,168.95 L413.25,171.05 L414.03,173.32 L414.81,172.91 L415.58,173.88 L416.36,175.83 L417.14,176.88 L417.92,172.06 L418.69,172.79 L419.47,174.71 L420.25,174.74 L421.03,173.84 L421.8,173.15 L422.58,174.83 L423.36,170.8 L424.13,171.27 L424.91,174.7 L425.69,174.53 L426.47,175.01 L427.24,174.95 L428.02,177.15 L428.8,175.88 L429.57,175.34 L430.35,175.34 L431.13,175.05 L431.91,174.59 L432.68,177.34 L433.46,178.47 L434.24,177.65 L435.02,176.63 L435.79,174.54 L436.57,176.59 L437.35,176.77 L438.12,175.37 L438.9,179.36 L439.68,180.57 L440.46,180.52 L441.23,181.01 L442.01,179.98 L442.79,178.74 L443.57,182.46 L444.34,182.19 L445.12,181.89 L445.9,182.21 L446.67,180.84 L447.45,181.8 L448.23,182.17 L449.01,185.57 L449.78,186.21 L450.56,186.84 L451.34,183.35 L452.12,182.49 L452.89,188.09 L453.67,185.14 L454.45,184.4 L455.22,184.01 L456,186.39 L456.78,186.15 L457.56,187.9 L458.33,189.14 L459.11,187.44 L459.89,189.95 L460.67,187.73 L461.44,188.31 L462.22,187.76 L463,186.57 L463.77,188.85 L464.55,188.91 L465.33,189.42 L466.11,190.17 L466.88,189.68 L467.66,190.27 L468.44,188.6 L469.21,189.26 L469.99,189.69 L470.77,186.79 L471.55,189.74 L472.32,189.75 L473.1,189.79 L473.88,192 L474.66,194.24 L475.43,189.31 L476.21,188.11 L476.99,192.18 L477.76,193.07 L478.54,191.94 L479.32,190.66 L480.1,187.41 L480.87,187.3 L481.65,187.93 L482.43,192.22 L483.21,192.32 L483.98,192.79 L484.76,194.07 L485.54,195.6 L486.31,194.74 L487.09,194.09 L487.87,195.54 L488.65,195.68 L489.42,196.41 L490.2,193.73 L490.98,193.69 L491.76,194.5 L492.53,193.93 L493.31,193.95 L494.09,193.06 L494.86,191.7 L495.64,193.97 L496.42,194.14 L497.2,194.69 L497.97,192.08 L498.75,193.96 L499.53,196.04 L500.31,196.03 L501.08,196.51 L501.86,196.41 L502.64,195.41 L503.41,193.81 L504.19,194.92 L504.97,195.72 L505.75,195.51 L506.52,195.65 L507.3,195.01 L508.08,197.57 L508.86,196.39 L509.63,196.02 L510.41,196.27 L511.19,194.89 L511.96,196.31 L512.74,196.56 L513.52,197.67 L514.3,194.95 L515.07,195.26 L515.85,195 L516.63,196.81 L517.4,199.13 L518.18,196.22 L518.96,193.98 L519.74,193.67 L520.51,194.94 L521.29,194.36 L522.07,197.46 L522.85,195.76 L523.62,195.86 L524.4,195.57 L525.18,195.64 L525.95,193.55 L526.73,194.67 L527.51,192.93 L528.29,196.27 L529.06,195.59 L529.84,195.03 L530.62,194.47 L531.4,195.27 L532.17,195.57 L532.95,197.38 L533.73,195.84 L534.5,194.74 L535.28,196.59" fill="none" stroke="#111" stroke-width="0.9" stroke-linejoin="round"/>
<path d="M309.1,194.07 L309.42,194.07 L309.75,194.07 L310.07,194.07 L310.4,194.07 L310.72,194.07 L311.04,194.07 L311.37,194.07 L311.69,194.07 L312.01,194.07 L312.34,194.07 L312.66,194.07 L312.99,194.07 L313.31,194.07 L313.63,194.07 L313.96,194.07 L314.28,194.07 L314.61,194.07 L314.93,194.07 L315.25,194.07 L315.58,194.07 L315.9,194.07 L316.22,194.07 L316.55,194.06 L316.87,194.06 L317.2,194.05 L317.52,194.04 L317.84,194.04 L318.17,194.03 L318.49,194.01 L318.82,194 L319.14,193.99 L319.46,193.97 L319.79,193.95 L320.11,193.93 L320.44,193.91 L320.76,193.88 L321.08,193.85 L321.41,193.82 L321.73,193.78 L322.05,193.66 L322.38,193.46 L322.7,193.19 L323.03,192.85 L323.35,192.47 L323.67,192.05 L324,191.6 L324.32,191.15 L324.65,190.69 L324.97,190.24 L325.29,189.82 L325.62,189.42 L325.94,189.08 L326.26,188.77 L326.59,188.46 L326.91,188.15 L327.24,187.83 L327.56,187.51 L327.88,187.19 L328.21,186.86 L328.53,186.53 L328.86,186.19 L329.18,185.84 L329.5,185.49 L329.83,185.13 L330.15,184.77 L330.47,184.4 L330.8,184.02 L331.12,183.63 L331.45,183.24 L331.77,182.84 L332.09,182.44 L332.42,182.03 L332.74,181.61 L333.07,181.19 L333.39,180.77 L333.71,180.34 L334.04,179.91 L334.36,179.47 L334.68,179.02 L335.01,178.58 L335.33,178.13 L335.66,177.7 L335.98,177.26 L336.3,176.84 L336.63,176.43 L336.95,176.04 L337.28,175.66 L337.6,175.3 L337.92,174.97 L338.25,174.66 L338.57,174.37 L338.89,174.12 L339.22,173.9 L339.54,173.71 L339.87,173.56 L340.19,173.44 L340.51,173.36 L340.84,173.32 L341.16,173.33 L341.49,173.36 L341.81,173.42 L342.13,173.52 L342.46,173.64 L342.78,173.78 L343.11,173.95 L343.43,174.14 L343.75,174.34 L344.08,174.55 L344.4,174.78 L344.72,175.01 L345.05,175.26 L345.37,175.51 L345.7,175.78 L346.02,176.05 L346.34,176.33 L346.67,176.62 L346.99,176.91 L347.32,177.2 L347.64,177.49 L347.96,177.78 L348.29,178.06 L348.61,178.34 L348.93,178.62 L349.26,178.89 L349.58,179.15 L349.91,179.4 L350.23,179.59 L350.55,179.71 L350.88,179.77 L351.2,179.77 L351.53,179.72 L351.85,179.62 L352.17,179.47 L352.5,179.29 L352.82,179.07 L353.14,178.82 L353.47,178.55 L353.79,178.26 L354.12,177.96 L354.44,177.66 L354.76,177.35 L355.09,177.04 L355.41,176.74 L355.74,176.46 L356.06,176.18 L356.38,175.88 L356.71,175.54 L357.03,175.19 L357.35,174.82 L357.68,174.43 L358,174.03 L358.33,173.61 L358.65,173.19 L358.97,172.76 L359.3,172.33 L359.62,171.9 L359.95,171.47 L360.27,171.05 L360.59,170.62 L360.92,170.21 L361.24,169.8 L361.56,169.39 L361.89,169 L362.21,168.61 L362.54,168.23 L362.86,167.85 L363.18,167.47 L363.51,167.07 L363.83,166.62 L364.16,166.13 L364.48,165.59 L364.8,164.99 L365.13,164.34 L365.45,163.62 L365.77,162.84 L366.1,161.98 L366.42,161.05 L366.75,160.05 L367.07,158.96 L367.39,157.78 L367.72,156.49 L368.04,155.08 L368.37,153.54 L368.69,151.87 L369.01,150.05 L369.34,148.1 L369.66,146 L369.99,143.76 L370.31,141.39 L370.63,138.91 L370.96,136.32 L371.28,133.64 L371.6,130.9 L371.93,128.11 L372.25,125.32 L372.58,122.54 L372.9,119.81 L373.22,117.16 L373.55,114.63 L373.87,112.25 L374.2,110.06 L374.52,108.07 L374.84,106.34 L375.17,104.87 L375.49,103.69 L375.81,102.82 L376.14,102.27 L376.46,102.04 L376.79,102.13 L377.11,102.53 L377.43,103.23 L377.76,104.22 L378.08,105.49 L378.41,107.02 L378.73,108.78 L379.05,110.76 L379.38,112.92 L379.7,115.22 L380.02,117.65 L380.35,120.15 L380.67,122.7 L381,125.28 L381.32,127.83 L381.64,130.35 L381.97,132.8 L382.29,135.17 L382.62,137.42 L382.94,139.55 L383.26,141.55 L383.59,143.41 L383.91,145.11 L384.23,146.67 L384.56,148.08 L384.88,149.35 L385.21,150.48 L385.53,151.49 L385.85,152.37 L386.18,153.15 L386.5,153.83 L386.83,154.44 L387.15,154.97 L387.47,155.44 L387.8,155.87 L388.12,156.27 L388.44,156.63 L388.77,156.93 L389.09,157.14 L389.42,157.25 L389.74,157.27 L390.06,157.19 L390.39,157 L390.71,156.7 L391.04,156.26 L391.36,155.68 L391.68,154.94 L392.01,154.01 L392.33,152.88 L392.66,151.51 L392.98,149.88 L393.3,147.97 L393.63,145.74 L393.95,143.18 L394.27,140.26 L394.6,136.95 L394.92,133.25 L395.25,129.14 L395.57,124.63 L395.89,119.71 L396.22,114.4 L396.54,108.73 L396.87,102.73 L397.19,96.46 L397.51,89.97 L397.84,83.33 L398.16,76.62 L398.48,69.94 L398.81,63.37 L399.13,57.02 L399.46,50.99 L399.78,45.39 L400.1,40.31 L400.43,35.85 L400.75,32.1 L401.08,29.13 L401.4,27 L401.72,25.76 L402.05,25.43 L402.37,26.04 L402.69,27.6 L403.02,30.08 L403.34,33.44 L403.67,37.6 L403.99,42.51 L404.31,48.05 L404.64,54.15 L404.96,60.69 L405.29,67.56 L405.61,74.67 L405.93,81.91 L406.26,89.18 L406.58,96.39 L406.9,103.45 L407.23,110.3 L407.55,116.86 L407.88,123.09 L408.2,128.96 L408.52,134.42 L408.85,139.47 L409.17,144.1 L409.5,148.3 L409.82,152.08 L410.14,155.46 L410.47,158.46 L410.79,161.09 L411.12,163.39 L411.44,165.37 L411.76,167.06 L412.09,168.49 L412.41,169.67 L412.73,170.64 L413.06,171.42 L413.38,172.02 L413.71,172.44 L414.03,172.71 L414.35,172.88 L414.68,172.99 L415,173.08 L415.33,173.19 L415.65,173.31 L415.97,173.42 L416.3,173.51 L416.62,173.59 L416.94,173.67 L417.27,173.74 L417.59,173.81 L417.92,173.88 L418.24,173.95 L418.56,174.02 L418.89,174.1 L419.21,174.17 L419.54,174.24 L419.86,174.31 L420.18,174.38 L420.51,174.45 L420.83,174.52 L421.15,174.59 L421.48,174.65 L421.8,174.72 L422.13,174.79 L422.45,174.86 L422.77,174.93 L423.1,175 L423.42,175.08 L423.75,175.16 L424.07,175.24 L424.39,175.32 L424.72,175.4 L425.04,175.49 L425.36,175.57 L425.69,175.66 L426.01,175.75 L426.34,175.84 L426.66,175.93 L426.98,176.03 L427.31,176.12 L427.63,176.22 L427.96,176.32 L428.28,176.42 L428.6,176.52 L428.93,176.62 L429.25,176.72 L429.57,176.82 L429.9,176.93 L430.22,177.04 L430.55,177.14 L430.87,177.25 L431.19,177.36 L431.52,177.47 L431.84,177.58 L432.17,177.69 L432.49,177.8 L432.81,177.91 L433.14,178.03 L433.46,178.14 L433.78,178.26 L434.11,178.37 L434.43,178.49 L434.76,178.6 L435.08,178.73 L435.4,178.85 L435.73,178.99 L436.05,179.12 L436.38,179.26 L436.7,179.41 L437.02,179.55 L437.35,179.7 L437.67,179.86 L438,180.01 L438.32,180.17 L438.64,180.33 L438.97,180.49 L439.29,180.65 L439.61,180.81 L439.94,180.97 L440.26,181.13 L440.59,181.3 L440.91,181.46 L441.23,181.62 L441.56,181.78 L441.88,181.94 L442.21,182.09 L442.53,182.25 L442.85,182.4 L443.18,182.55 L443.5,182.69 L443.82,182.84 L444.15,182.98 L444.47,183.11 L444.8,183.24 L445.12,183.37 L445.44,183.49 L445.77,183.61 L446.09,183.72 L446.42,183.83 L446.74,183.93 L447.06,184.04 L447.39,184.14 L447.71,184.24 L448.03,184.34 L448.36,184.44 L448.68,184.53 L449.01,184.63 L449.33,184.72 L449.65,184.82 L449.98,184.91 L450.3,185 L450.63,185.09 L450.95,185.18 L451.27,185.26 L451.6,185.35 L451.92,185.43 L452.24,185.52 L452.57,185.6 L452.89,185.68 L453.22,185.76 L453.54,185.84 L453.86,185.92 L454.19,186 L454.51,186.08 L454.84,186.16 L455.16,186.24 L455.48,186.31 L455.81,186.39 L456.13,186.46 L456.45,186.54 L456.78,186.61 L457.1,186.69 L457.43,186.76 L457.75,186.84 L458.07,186.91 L458.4,186.98 L458.72,187.06 L459.05,187.13 L459.37,187.2 L459.69,187.27 L460.02,187.34 L460.34,187.41 L460.67,187.48 L460.99,187.55 L461.31,187.62 L461.64,187.69 L461.96,187.75 L462.28,187.82 L462.61,187.89 L462.93,187.95 L463.26,188.02 L463.58,188.08 L463.9,188.15 L464.23,188.21 L464.55,188.27 L464.88,188.34 L465.2,188.4 L465.52,188.46 L465.85,188.52 L466.17,188.58 L466.49,188.64 L466.82,188.7 L467.14,188.76 L467.47,188.81 L467.79,188.87 L468.11,188.93 L468.44,188.99 L468.76,189.04 L469.09,189.1 L469.41,189.15 L469.73,189.2 L470.06,189.26 L470.38,189.31 L470.7,189.36 L471.03,189.42 L471.35,189.47 L471.68,189.52 L472,189.57 L472.32,189.62 L472.65,189.67 L472.97,189.72 L473.3,189.77 L473.62,189.82 L473.94,189.86 L474.27,189.91 L474.59,189.96 L474.91,190.01 L475.24,190.05 L475.56,190.1 L475.89,190.15 L476.21,190.19 L476.53,190.24 L476.86,190.28 L477.18,190.33 L477.51,190.37 L477.83,190.42 L478.15,190.46 L478.48,190.5 L478.8,190.55 L479.12,190.59 L479.45,190.64 L479.77,190.68 L480.1,190.72 L480.42,190.76 L480.74,190.81 L481.07,190.85 L481.39,190.89 L481.72,190.93 L482.04,190.97 L482.36,191.02 L482.69,191.06 L483.01,191.1 L483.34,191.14 L483.66,191.18 L483.98,191.22 L484.31,191.26 L484.63,191.3 L484.95,191.34 L485.28,191.38 L485.6,191.41 L485.93,191.45 L486.25,191.49 L486.57,191.53 L486.9,191.57 L487.22,191.61 L487.55,191.64 L487.87,191.68 L488.19,191.72 L488.52,191.76 L488.84,191.79 L489.16,191.83 L489.49,191.87 L489.81,191.91 L490.14,191.94 L490.46,191.98 L490.78,192.02 L491.11,192.05 L491.43,192.09 L491.76,192.13 L492.08,192.16 L492.4,192.2 L492.73,192.24 L493.05,192.27 L493.37,192.31 L493.7,192.34 L494.02,192.38 L494.35,192.42 L494.67,192.45 L494.99,192.49 L495.32,192.53 L495.64,192.56 L495.97,192.6 L496.29,192.64 L496.61,192.67 L496.94,192.71 L497.26,192.75 L497.58,192.79 L497.91,192.83 L498.23,192.86 L498.56,192.9 L498.88,192.94 L499.2,192.98 L499.53,193.01 L499.85,193.05 L500.18,193.09 L500.5,193.12 L500.82,193.15 L501.15,193.18 L501.47,193.22 L501.79,193.24 L502.12,193.27 L502.44,193.3 L502.77,193.33 L503.09,193.35 L503.41,193.38 L503.74,193.4 L504.06,193.43 L504.39,193.45 L504.71,193.48 L505.03,193.5 L505.36,193.53 L505.68,193.55 L506.01,193.58 L506.33,193.6 L506.65,193.62 L506.98,193.65 L507.3,193.67 L507.62,193.69 L507.95,193.72 L508.27,193.74 L508.6,193.76 L508.92,193.78 L509.24,193.8 L509.57,193.82 L509.89,193.84 L510.22,193.86 L510.54,193.88 L510.86,193.9 L511.19,193.92 L511.51,193.94 L511.83,193.96 L512.16,193.98 L512.48,194 L512.81,194.01 L513.13,194.03 L513.45,194.05 L513.78,194.06 L514.1,194.08 L514.43,194.09 L514.75,194.11 L515.07,194.12 L515.4,194.14 L515.72,194.15 L516.04,194.17 L516.37,194.18 L516.69,194.19 L517.02,194.2 L517.34,194.21 L517.66,194.23 L517.99,194.24 L518.31,194.25 L518.64,194.26 L518.96,194.27 L519.28,194.29 L519.61,194.3 L519.93,194.31 L520.25,194.32 L520.58,194.33 L520.9,194.34 L521.23,194.35 L521.55,194.37 L521.87,194.38 L522.2,194.39 L522.52,194.4 L522.85,194.41 L523.17,194.42 L523.49,194.43 L523.82,194.44 L524.14,194.45 L524.46,194.46 L524.79,194.47 L525.11,194.48 L525.44,194.49 L525.76,194.5 L526.08,194.51 L526.41,194.52 L526.73,194.53 L527.06,194.54 L527.38,194.55 L527.7,194.56 L528.03,194.56 L528.35,194.57 L528.68,194.58 L529,194.59 L529.32,194.6 L529.65,194.6 L529.97,194.61 L530.29,194.62 L530.62,194.63 L530.94,194.63 L531.27,194.64 L531.59,194.64 L531.91,194.65 L532.24,194.66 L532.56,194.66 L532.89,194.67 L533.21,194.67 L533.53,194.68 L533.86,194.68 L534.18,194.68 L534.5,194.69 L534.83,194.69 L535.15,194.7 L535.48,194.7 L535.8,194.7" fill="none" stroke="#ff00ff" stroke-width="1.6" stroke-linejoin="round"/>
</g>
<rect x="309.1" y="9.3" width="226.69999999999993" height="191.89999999999998" fill="none" stroke="#222" stroke-width="1"/>
<line x1="304.6" y1="195.4" x2="309.1" y2="195.4" stroke="#222" stroke-width="1"/>
<text x="302.8" y="198.6" text-anchor="end" font-size="9" class="k">0</text>
<line x1="306.6" y1="182.1" x2="309.1" y2="182.1" stroke="#222" stroke-width="1"/>
<line x1="304.6" y1="168.8" x2="309.1" y2="168.8" stroke="#222" stroke-width="1"/>
<text x="302.8" y="172" text-anchor="end" font-size="9" class="k">10</text>
<line x1="306.6" y1="155.5" x2="309.1" y2="155.5" stroke="#222" stroke-width="1"/>
<line x1="304.6" y1="142.2" x2="309.1" y2="142.2" stroke="#222" stroke-width="1"/>
<text x="302.8" y="145.4" text-anchor="end" font-size="9" class="k">20</text>
<line x1="306.6" y1="128.9" x2="309.1" y2="128.9" stroke="#222" stroke-width="1"/>
<line x1="304.6" y1="115.6" x2="309.1" y2="115.6" stroke="#222" stroke-width="1"/>
<text x="302.8" y="118.8" text-anchor="end" font-size="9" class="k">30</text>
<line x1="306.6" y1="102.3" x2="309.1" y2="102.3" stroke="#222" stroke-width="1"/>
<line x1="304.6" y1="89" x2="309.1" y2="89" stroke="#222" stroke-width="1"/>
<text x="302.8" y="92.2" text-anchor="end" font-size="9" class="k">40</text>
<line x1="306.6" y1="75.7" x2="309.1" y2="75.7" stroke="#222" stroke-width="1"/>
<line x1="304.6" y1="62.4" x2="309.1" y2="62.4" stroke="#222" stroke-width="1"/>
<text x="302.8" y="65.6" text-anchor="end" font-size="9" class="k">50</text>
<line x1="306.6" y1="49.1" x2="309.1" y2="49.1" stroke="#222" stroke-width="1"/>
<line x1="304.6" y1="35.8" x2="309.1" y2="35.8" stroke="#222" stroke-width="1"/>
<text x="302.8" y="39" text-anchor="end" font-size="9" class="k">60</text>
<line x1="306.6" y1="22.5" x2="309.1" y2="22.5" stroke="#222" stroke-width="1"/>
<line x1="304.6" y1="9.2" x2="309.1" y2="9.2" stroke="#222" stroke-width="1"/>
<text x="302.8" y="12.4" text-anchor="end" font-size="9" class="k">70</text>
<line x1="309.1" y1="201.2" x2="309.1" y2="205.7" stroke="#222" stroke-width="1"/>
<text x="310.1" y="214.3" text-anchor="middle" font-size="9" class="k">200</text>
<line x1="325.29" y1="201.2" x2="325.29" y2="203.7" stroke="#222" stroke-width="1"/>
<line x1="341.49" y1="201.2" x2="341.49" y2="205.7" stroke="#222" stroke-width="1"/>
<text x="342.49" y="214.3" text-anchor="middle" font-size="9" class="k">250</text>
<line x1="357.68" y1="201.2" x2="357.68" y2="203.7" stroke="#222" stroke-width="1"/>
<line x1="373.87" y1="201.2" x2="373.87" y2="205.7" stroke="#222" stroke-width="1"/>
<text x="374.87" y="214.3" text-anchor="middle" font-size="9" class="k">300</text>
<line x1="390.06" y1="201.2" x2="390.06" y2="203.7" stroke="#222" stroke-width="1"/>
<line x1="406.26" y1="201.2" x2="406.26" y2="205.7" stroke="#222" stroke-width="1"/>
<text x="407.26" y="214.3" text-anchor="middle" font-size="9" class="k">350</text>
<line x1="422.45" y1="201.2" x2="422.45" y2="203.7" stroke="#222" stroke-width="1"/>
<line x1="438.64" y1="201.2" x2="438.64" y2="205.7" stroke="#222" stroke-width="1"/>
<text x="439.64" y="214.3" text-anchor="middle" font-size="9" class="k">400</text>
<line x1="454.84" y1="201.2" x2="454.84" y2="203.7" stroke="#222" stroke-width="1"/>
<line x1="471.03" y1="201.2" x2="471.03" y2="205.7" stroke="#222" stroke-width="1"/>
<text x="472.03" y="214.3" text-anchor="middle" font-size="9" class="k">450</text>
<line x1="487.22" y1="201.2" x2="487.22" y2="203.7" stroke="#222" stroke-width="1"/>
<line x1="503.41" y1="201.2" x2="503.41" y2="205.7" stroke="#222" stroke-width="1"/>
<text x="504.41" y="214.3" text-anchor="middle" font-size="9" class="k">500</text>
<line x1="519.61" y1="201.2" x2="519.61" y2="203.7" stroke="#222" stroke-width="1"/>
<line x1="535.8" y1="201.2" x2="535.8" y2="205.7" stroke="#222" stroke-width="1"/>
<text x="536.8" y="214.3" text-anchor="middle" font-size="9" class="k">550</text>
<text transform="translate(315.3,26.2) scale(0.95,1)" font-size="15.2">(b)</text>
<text transform="translate(407.7,31.8) scale(1.08,1)" font-size="12.2">LO</text>
<text transform="translate(351.1,112.1) scale(1.06,1)" font-size="12.2">TO</text>
<text transform="translate(334,161.2) scale(1.08,1)" font-size="12.2">LV</text>
<text x="447.5" y="130.3" font-size="11">LO = 344.3 cm<tspan dy="-4.4" font-size="7.7">-1</tspan></text><text x="447.5" y="143" font-size="11">TO = 303.2</text><text x="447.5" y="155.6" font-size="11" xml:space="preserve">LV  = 250.5</text>
<clipPath id="icb"><rect x="456" y="4.1" width="86.4" height="86.5"/></clipPath>
<g clip-path="url(#icb)">
<defs><linearGradient id="mb0"><stop offset="0" stop-color="#d6bc8c"/><stop offset=".5" stop-color="#e6d4b4"/><stop offset="1" stop-color="#f0e6d6"/></linearGradient><linearGradient id="mb1"><stop offset="0" stop-color="#d6bc8d"/><stop offset=".5" stop-color="#e6d4b5"/><stop offset="1" stop-color="#f0e6d6"/></linearGradient><linearGradient id="mb2"><stop offset="0" stop-color="#d6bc8d"/><stop offset=".5" stop-color="#e6d4b5"/><stop offset="1" stop-color="#f0e6d6"/></linearGradient><linearGradient id="mb3"><stop offset="0" stop-color="#d6bd8e"/><stop offset=".5" stop-color="#e6d5b5"/><stop offset="1" stop-color="#f0e6d6"/></linearGradient><linearGradient id="mb4"><stop offset="0" stop-color="#d6bd8e"/><stop offset=".5" stop-color="#e6d5b6"/><stop offset="1" stop-color="#f0e6d7"/></linearGradient><linearGradient id="mb5"><stop offset="0" stop-color="#d6bd8f"/><stop offset=".5" stop-color="#e7d5b6"/><stop offset="1" stop-color="#f0e6d7"/></linearGradient><linearGradient id="mb6"><stop offset="0" stop-color="#d6bd8f"/><stop offset=".5" stop-color="#e7d5b6"/><stop offset="1" stop-color="#f0e6d7"/></linearGradient><linearGradient id="mb7"><stop offset="0" stop-color="#d6bd8f"/><stop offset=".5" stop-color="#e7d5b7"/><stop offset="1" stop-color="#f0e6d7"/></linearGradient><linearGradient id="mb8"><stop offset="0" stop-color="#d6be90"/><stop offset=".5" stop-color="#e7d6b7"/><stop offset="1" stop-color="#f0e6d7"/></linearGradient><linearGradient id="mb9"><stop offset="0" stop-color="#d6be90"/><stop offset=".5" stop-color="#e7d6b8"/><stop offset="1" stop-color="#f0e6d7"/></linearGradient><linearGradient id="mb10"><stop offset="0" stop-color="#d6be91"/><stop offset=".5" stop-color="#e7d6b8"/><stop offset="1" stop-color="#f0e6d7"/></linearGradient><linearGradient id="mb11"><stop offset="0" stop-color="#d7be91"/><stop offset=".5" stop-color="#e7d6b8"/><stop offset="1" stop-color="#f0e7d8"/></linearGradient><linearGradient id="mb12"><stop offset="0" stop-color="#d7be92"/><stop offset=".5" stop-color="#e7d6b9"/><stop offset="1" stop-color="#f0e7d8"/></linearGradient><linearGradient id="mb13"><stop offset="0" stop-color="#d7bf92"/><stop offset=".5" stop-color="#e7d7b9"/><stop offset="1" stop-color="#f0e7d8"/></linearGradient><linearGradient id="mb14"><stop offset="0" stop-color="#d7bf93"/><stop offset=".5" stop-color="#e7d7b9"/><stop offset="1" stop-color="#f0e7d8"/></linearGradient><linearGradient id="mb15"><stop offset="0" stop-color="#d7bf93"/><stop offset=".5" stop-color="#e7d7ba"/><stop offset="1" stop-color="#f0e7d8"/></linearGradient><linearGradient id="mb16"><stop offset="0" stop-color="#d7bf94"/><stop offset=".5" stop-color="#e8d7ba"/><stop offset="1" stop-color="#f0e7d8"/></linearGradient><linearGradient id="mb17"><stop offset="0" stop-color="#d7bf94"/><stop offset=".5" stop-color="#e8d7bb"/><stop offset="1" stop-color="#f0e7d8"/></linearGradient><linearGradient id="mb18"><stop offset="0" stop-color="#d7bf95"/><stop offset=".5" stop-color="#e8d7bb"/><stop offset="1" stop-color="#f0e7d9"/></linearGradient><linearGradient id="mb19"><stop offset="0" stop-color="#d7c095"/><stop offset=".5" stop-color="#e8d8bb"/><stop offset="1" stop-color="#f0e7d9"/></linearGradient><linearGradient id="mb20"><stop offset="0" stop-color="#d7c096"/><stop offset=".5" stop-color="#e8d8bc"/><stop offset="1" stop-color="#f0e7d9"/></linearGradient><linearGradient id="mb21"><stop offset="0" stop-color="#d7c096"/><stop offset=".5" stop-color="#e8d8bc"/><stop offset="1" stop-color="#f0e7d9"/></linearGradient><linearGradient id="mb22"><stop offset="0" stop-color="#d7c096"/><stop offset=".5" stop-color="#e8d8bc"/><stop offset="1" stop-color="#f0e7d9"/></linearGradient><linearGradient id="mb23"><stop offset="0" stop-color="#d7c097"/><stop offset=".5" stop-color="#e8d8bd"/><stop offset="1" stop-color="#f0e7d9"/></linearGradient><linearGradient id="mb24"><stop offset="0" stop-color="#d7c197"/><stop offset=".5" stop-color="#e8d9bd"/><stop offset="1" stop-color="#f0e7d9"/></linearGradient><linearGradient id="mb25"><stop offset="0" stop-color="#d7c198"/><stop offset=".5" stop-color="#e8d9bd"/><stop offset="1" stop-color="#f0e7da"/></linearGradient><linearGradient id="mb26"><stop offset="0" stop-color="#d7c198"/><stop offset=".5" stop-color="#e8d9be"/><stop offset="1" stop-color="#f0e7da"/></linearGradient><linearGradient id="mb27"><stop offset="0" stop-color="#d7c199"/><stop offset=".5" stop-color="#e9d9be"/><stop offset="1" stop-color="#f0e7da"/></linearGradient><linearGradient id="mb28"><stop offset="0" stop-color="#d7c199"/><stop offset=".5" stop-color="#e9d9bf"/><stop offset="1" stop-color="#f0e7da"/></linearGradient><linearGradient id="mb29"><stop offset="0" stop-color="#d7c19a"/><stop offset=".5" stop-color="#e9d9bf"/><stop offset="1" stop-color="#f0e7da"/></linearGradient><linearGradient id="mb30"><stop offset="0" stop-color="#d7c29a"/><stop offset=".5" stop-color="#e9dabf"/><stop offset="1" stop-color="#f0e7da"/></linearGradient><linearGradient id="mb31"><stop offset="0" stop-color="#d7c29b"/><stop offset=".5" stop-color="#e9dac0"/><stop offset="1" stop-color="#f0e7da"/></linearGradient><linearGradient id="mb32"><stop offset="0" stop-color="#d8c29b"/><stop offset=".5" stop-color="#e9dac0"/><stop offset="1" stop-color="#f0e8db"/></linearGradient><linearGradient id="mb33"><stop offset="0" stop-color="#d8c29c"/><stop offset=".5" stop-color="#e9dac0"/><stop offset="1" stop-color="#f0e8db"/></linearGradient><linearGradient id="mb34"><stop offset="0" stop-color="#d8c29c"/><stop offset=".5" stop-color="#e9dac1"/><stop offset="1" stop-color="#f0e8db"/></linearGradient><linearGradient id="mb35"><stop offset="0" stop-color="#d8c39d"/><stop offset=".5" stop-color="#e9dbc1"/><stop offset="1" stop-color="#f0e8db"/></linearGradient><linearGradient id="mb36"><stop offset="0" stop-color="#d8c39d"/><stop offset=".5" stop-color="#e9dbc2"/><stop offset="1" stop-color="#f0e8db"/></linearGradient><linearGradient id="mb37"><stop offset="0" stop-color="#d8c39d"/><stop offset=".5" stop-color="#e9dbc2"/><stop offset="1" stop-color="#f0e8db"/></linearGradient><linearGradient id="mb38"><stop offset="0" stop-color="#d8c39e"/><stop offset=".5" stop-color="#eadbc2"/><stop offset="1" stop-color="#f0e8db"/></linearGradient><linearGradient id="mb39"><stop offset="0" stop-color="#d8c39e"/><stop offset=".5" stop-color="#eadbc3"/><stop offset="1" stop-color="#f0e8dc"/></linearGradient><linearGradient id="mb40"><stop offset="0" stop-color="#d8c49f"/><stop offset=".5" stop-color="#eadcc3"/><stop offset="1" stop-color="#f0e8dc"/></linearGradient><linearGradient id="mb41"><stop offset="0" stop-color="#d8c49f"/><stop offset=".5" stop-color="#eadcc3"/><stop offset="1" stop-color="#f0e8dc"/></linearGradient><linearGradient id="mb42"><stop offset="0" stop-color="#d8c4a0"/><stop offset=".5" stop-color="#eadcc4"/><stop offset="1" stop-color="#f0e8dc"/></linearGradient><linearGradient id="mb43"><stop offset="0" stop-color="#d8c4a0"/><stop offset=".5" stop-color="#eadcc4"/><stop offset="1" stop-color="#f0e8dc"/></linearGradient><linearGradient id="mb44"><stop offset="0" stop-color="#d8c4a0"/><stop offset=".5" stop-color="#eadcc4"/><stop offset="1" stop-color="#f0e8dc"/></linearGradient><linearGradient id="mb45"><stop offset="0" stop-color="#d8c4a0"/><stop offset=".5" stop-color="#eadcc4"/><stop offset="1" stop-color="#f0e8dc"/></linearGradient><linearGradient id="mb46"><stop offset="0" stop-color="#d8c4a0"/><stop offset=".5" stop-color="#eadcc4"/><stop offset="1" stop-color="#f0e8dc"/></linearGradient><linearGradient id="mb47"><stop offset="0" stop-color="#d8c4a1"/><stop offset=".5" stop-color="#eadcc4"/><stop offset="1" stop-color="#f0e8dd"/></linearGradient><linearGradient id="mb48"><stop offset="0" stop-color="#d8c4a1"/><stop offset=".5" stop-color="#eadcc5"/><stop offset="1" stop-color="#f1e9dd"/></linearGradient><linearGradient id="mb49"><stop offset="0" stop-color="#d8c4a1"/><stop offset=".5" stop-color="#eadcc5"/><stop offset="1" stop-color="#f1e9dd"/></linearGradient><linearGradient id="mb50"><stop offset="0" stop-color="#d8c4a1"/><stop offset=".5" stop-color="#eadcc5"/><stop offset="1" stop-color="#f1e9dd"/></linearGradient><linearGradient id="mb51"><stop offset="0" stop-color="#d8c4a1"/><stop offset=".5" stop-color="#eadcc5"/><stop offset="1" stop-color="#f1e9dd"/></linearGradient><linearGradient id="mb52"><stop offset="0" stop-color="#d8c4a1"/><stop offset=".5" stop-color="#eadcc5"/><stop offset="1" stop-color="#f1e9dd"/></linearGradient><linearGradient id="mb53"><stop offset="0" stop-color="#d8c4a1"/><stop offset=".5" stop-color="#eadcc5"/><stop offset="1" stop-color="#f1e9dd"/></linearGradient><linearGradient id="mb54"><stop offset="0" stop-color="#d8c5a2"/><stop offset=".5" stop-color="#e9dcc5"/><stop offset="1" stop-color="#f1e9de"/></linearGradient><linearGradient id="mb55"><stop offset="0" stop-color="#d8c5a2"/><stop offset=".5" stop-color="#e9dcc5"/><stop offset="1" stop-color="#f1e9de"/></linearGradient><linearGradient id="mb56"><stop offset="0" stop-color="#d8c5a2"/><stop offset=".5" stop-color="#e9dcc5"/><stop offset="1" stop-color="#f1e9de"/></linearGradient><linearGradient id="mb57"><stop offset="0" stop-color="#d8c5a2"/><stop offset=".5" stop-color="#e9dcc5"/><stop offset="1" stop-color="#f1e9de"/></linearGradient><linearGradient id="mb58"><stop offset="0" stop-color="#d8c5a2"/><stop offset=".5" stop-color="#e9dcc5"/><stop offset="1" stop-color="#f1e9de"/></linearGradient><linearGradient id="mb59"><stop offset="0" stop-color="#d8c5a2"/><stop offset=".5" stop-color="#e9dcc6"/><stop offset="1" stop-color="#f2eade"/></linearGradient><linearGradient id="mb60"><stop offset="0" stop-color="#d8c5a2"/><stop offset=".5" stop-color="#e9dcc6"/><stop offset="1" stop-color="#f2eade"/></linearGradient><linearGradient id="mb61"><stop offset="0" stop-color="#d8c5a3"/><stop offset=".5" stop-color="#e9dcc6"/><stop offset="1" stop-color="#f2eadf"/></linearGradient><linearGradient id="mb62"><stop offset="0" stop-color="#d8c5a3"/><stop offset=".5" stop-color="#e9dcc6"/><stop offset="1" stop-color="#f2eadf"/></linearGradient><linearGradient id="mb63"><stop offset="0" stop-color="#d8c5a3"/><stop offset=".5" stop-color="#e9dcc6"/><stop offset="1" stop-color="#f2eadf"/></linearGradient><linearGradient id="mb64"><stop offset="0" stop-color="#d8c5a3"/><stop offset=".5" stop-color="#e9dcc6"/><stop offset="1" stop-color="#f2eadf"/></linearGradient><linearGradient id="mb65"><stop offset="0" stop-color="#d8c5a3"/><stop offset=".5" stop-color="#e9dcc6"/><stop offset="1" stop-color="#f2eadf"/></linearGradient><linearGradient id="mb66"><stop offset="0" stop-color="#d8c5a3"/><stop offset=".5" stop-color="#e9dcc6"/><stop offset="1" stop-color="#f2eadf"/></linearGradient><linearGradient id="mb67"><stop offset="0" stop-color="#d8c5a3"/><stop offset=".5" stop-color="#e9dcc6"/><stop offset="1" stop-color="#f2eadf"/></linearGradient><linearGradient id="mb68"><stop offset="0" stop-color="#d8c5a4"/><stop offset=".5" stop-color="#e9dcc6"/><stop offset="1" stop-color="#f2eae0"/></linearGradient><linearGradient id="mb69"><stop offset="0" stop-color="#d8c5a4"/><stop offset=".5" stop-color="#e9dcc6"/><stop offset="1" stop-color="#f2eae0"/></linearGradient><linearGradient id="mb70"><stop offset="0" stop-color="#d8c5a4"/><stop offset=".5" stop-color="#e9dcc7"/><stop offset="1" stop-color="#f3ebe0"/></linearGradient><linearGradient id="mb71"><stop offset="0" stop-color="#d8c5a4"/><stop offset=".5" stop-color="#e9dcc7"/><stop offset="1" stop-color="#f3ebe0"/></linearGradient><linearGradient id="mb72"><stop offset="0" stop-color="#d8c5a4"/><stop offset=".5" stop-color="#e9dcc7"/><stop offset="1" stop-color="#f3ebe0"/></linearGradient><linearGradient id="mb73"><stop offset="0" stop-color="#d8c5a4"/><stop offset=".5" stop-color="#e9dcc7"/><stop offset="1" stop-color="#f3ebe0"/></linearGradient><linearGradient id="mb74"><stop offset="0" stop-color="#d8c5a4"/><stop offset=".5" stop-color="#e9dcc7"/><stop offset="1" stop-color="#f3ebe0"/></linearGradient><linearGradient id="mb75"><stop offset="0" stop-color="#d8c6a5"/><stop offset=".5" stop-color="#e8dcc7"/><stop offset="1" stop-color="#f3ebe1"/></linearGradient><linearGradient id="mb76"><stop offset="0" stop-color="#d8c6a5"/><stop offset=".5" stop-color="#e8dcc7"/><stop offset="1" stop-color="#f3ebe1"/></linearGradient><linearGradient id="mb77"><stop offset="0" stop-color="#d8c6a5"/><stop offset=".5" stop-color="#e8dcc7"/><stop offset="1" stop-color="#f3ebe1"/></linearGradient><linearGradient id="mb78"><stop offset="0" stop-color="#d8c6a5"/><stop offset=".5" stop-color="#e8dcc7"/><stop offset="1" stop-color="#f3ebe1"/></linearGradient><linearGradient id="mb79"><stop offset="0" stop-color="#d8c6a5"/><stop offset=".5" stop-color="#e8dcc7"/><stop offset="1" stop-color="#f3ebe1"/></linearGradient><linearGradient id="mb80"><stop offset="0" stop-color="#d8c6a5"/><stop offset=".5" stop-color="#e8dcc7"/><stop offset="1" stop-color="#f3ebe1"/></linearGradient><linearGradient id="mb81"><stop offset="0" stop-color="#d8c6a5"/><stop offset=".5" stop-color="#e8dcc8"/><stop offset="1" stop-color="#f4ece1"/></linearGradient><linearGradient id="mb82"><stop offset="0" stop-color="#d8c6a6"/><stop offset=".5" stop-color="#e8dcc8"/><stop offset="1" stop-color="#f4ece2"/></linearGradient><linearGradient id="mb83"><stop offset="0" stop-color="#d8c6a6"/><stop offset=".5" stop-color="#e8dcc8"/><stop offset="1" stop-color="#f4ece2"/></linearGradient><linearGradient id="mb84"><stop offset="0" stop-color="#d8c6a6"/><stop offset=".5" stop-color="#e8dcc8"/><stop offset="1" stop-color="#f4ece2"/></linearGradient><linearGradient id="mb85"><stop offset="0" stop-color="#d8c6a6"/><stop offset=".5" stop-color="#e8dcc8"/><stop offset="1" stop-color="#f4ece2"/></linearGradient></defs><rect x="456" y="4.1" width="86.4" height="86.5" fill="#eadcc4"/><rect x="456" y="4.1" width="86.4" height="2.01" fill="url(#mb0)"/><rect x="456" y="5.11" width="86.4" height="2.01" fill="url(#mb1)"/><rect x="456" y="6.11" width="86.4" height="2.01" fill="url(#mb2)"/><rect x="456" y="7.12" width="86.4" height="2.01" fill="url(#mb3)"/><rect x="456" y="8.12" width="86.4" height="2.01" fill="url(#mb4)"/><rect x="456" y="9.13" width="86.4" height="2.01" fill="url(#mb5)"/><rect x="456" y="10.13" width="86.4" height="2.01" fill="url(#mb6)"/><rect x="456" y="11.14" width="86.4" height="2.01" fill="url(#mb7)"/><rect x="456" y="12.15" width="86.4" height="2.01" fill="url(#mb8)"/><rect x="456" y="13.15" width="86.4" height="2.01" fill="url(#mb9)"/><rect x="456" y="14.16" width="86.4" height="2.01" fill="url(#mb10)"/><rect x="456" y="15.16" width="86.4" height="2.01" fill="url(#mb11)"/><rect x="456" y="16.17" width="86.4" height="2.01" fill="url(#mb12)"/><rect x="456" y="17.18" width="86.4" height="2.01" fill="url(#mb13)"/><rect x="456" y="18.18" width="86.4" height="2.01" fill="url(#mb14)"/><rect x="456" y="19.19" width="86.4" height="2.01" fill="url(#mb15)"/><rect x="456" y="20.19" width="86.4" height="2.01" fill="url(#mb16)"/><rect x="456" y="21.2" width="86.4" height="2.01" fill="url(#mb17)"/><rect x="456" y="22.2" width="86.4" height="2.01" fill="url(#mb18)"/><rect x="456" y="23.21" width="86.4" height="2.01" fill="url(#mb19)"/><rect x="456" y="24.22" width="86.4" height="2.01" fill="url(#mb20)"/><rect x="456" y="25.22" width="86.4" height="2.01" fill="url(#mb21)"/><rect x="456" y="26.23" width="86.4" height="2.01" fill="url(#mb22)"/><rect x="456" y="27.23" width="86.4" height="2.01" fill="url(#mb23)"/><rect x="456" y="28.24" width="86.4" height="2.01" fill="url(#mb24)"/><rect x="456" y="29.25" width="86.4" height="2.01" fill="url(#mb25)"/><rect x="456" y="30.25" width="86.4" height="2.01" fill="url(#mb26)"/><rect x="456" y="31.26" width="86.4" height="2.01" fill="url(#mb27)"/><rect x="456" y="32.26" width="86.4" height="2.01" fill="url(#mb28)"/><rect x="456" y="33.27" width="86.4" height="2.01" fill="url(#mb29)"/><rect x="456" y="34.27" width="86.4" height="2.01" fill="url(#mb30)"/><rect x="456" y="35.28" width="86.4" height="2.01" fill="url(#mb31)"/><rect x="456" y="36.29" width="86.4" height="2.01" fill="url(#mb32)"/><rect x="456" y="37.29" width="86.4" height="2.01" fill="url(#mb33)"/><rect x="456" y="38.3" width="86.4" height="2.01" fill="url(#mb34)"/><rect x="456" y="39.3" width="86.4" height="2.01" fill="url(#mb35)"/><rect x="456" y="40.31" width="86.4" height="2.01" fill="url(#mb36)"/><rect x="456" y="41.32" width="86.4" height="2.01" fill="url(#mb37)"/><rect x="456" y="42.32" width="86.4" height="2.01" fill="url(#mb38)"/><rect x="456" y="43.33" width="86.4" height="2.01" fill="url(#mb39)"/><rect x="456" y="44.33" width="86.4" height="2.01" fill="url(#mb40)"/><rect x="456" y="45.34" width="86.4" height="2.01" fill="url(#mb41)"/><rect x="456" y="46.34" width="86.4" height="2.01" fill="url(#mb42)"/><rect x="456" y="47.35" width="86.4" height="2.01" fill="url(#mb43)"/><rect x="456" y="48.36" width="86.4" height="2.01" fill="url(#mb44)"/><rect x="456" y="49.36" width="86.4" height="2.01" fill="url(#mb45)"/><rect x="456" y="50.37" width="86.4" height="2.01" fill="url(#mb46)"/><rect x="456" y="51.37" width="86.4" height="2.01" fill="url(#mb47)"/><rect x="456" y="52.38" width="86.4" height="2.01" fill="url(#mb48)"/><rect x="456" y="53.38" width="86.4" height="2.01" fill="url(#mb49)"/><rect x="456" y="54.39" width="86.4" height="2.01" fill="url(#mb50)"/><rect x="456" y="55.4" width="86.4" height="2.01" fill="url(#mb51)"/><rect x="456" y="56.4" width="86.4" height="2.01" fill="url(#mb52)"/><rect x="456" y="57.41" width="86.4" height="2.01" fill="url(#mb53)"/><rect x="456" y="58.41" width="86.4" height="2.01" fill="url(#mb54)"/><rect x="456" y="59.42" width="86.4" height="2.01" fill="url(#mb55)"/><rect x="456" y="60.43" width="86.4" height="2.01" fill="url(#mb56)"/><rect x="456" y="61.43" width="86.4" height="2.01" fill="url(#mb57)"/><rect x="456" y="62.44" width="86.4" height="2.01" fill="url(#mb58)"/><rect x="456" y="63.44" width="86.4" height="2.01" fill="url(#mb59)"/><rect x="456" y="64.45" width="86.4" height="2.01" fill="url(#mb60)"/><rect x="456" y="65.45" width="86.4" height="2.01" fill="url(#mb61)"/><rect x="456" y="66.46" width="86.4" height="2.01" fill="url(#mb62)"/><rect x="456" y="67.47" width="86.4" height="2.01" fill="url(#mb63)"/><rect x="456" y="68.47" width="86.4" height="2.01" fill="url(#mb64)"/><rect x="456" y="69.48" width="86.4" height="2.01" fill="url(#mb65)"/><rect x="456" y="70.48" width="86.4" height="2.01" fill="url(#mb66)"/><rect x="456" y="71.49" width="86.4" height="2.01" fill="url(#mb67)"/><rect x="456" y="72.5" width="86.4" height="2.01" fill="url(#mb68)"/><rect x="456" y="73.5" width="86.4" height="2.01" fill="url(#mb69)"/><rect x="456" y="74.51" width="86.4" height="2.01" fill="url(#mb70)"/><rect x="456" y="75.51" width="86.4" height="2.01" fill="url(#mb71)"/><rect x="456" y="76.52" width="86.4" height="2.01" fill="url(#mb72)"/><rect x="456" y="77.52" width="86.4" height="2.01" fill="url(#mb73)"/><rect x="456" y="78.53" width="86.4" height="2.01" fill="url(#mb74)"/><rect x="456" y="79.54" width="86.4" height="2.01" fill="url(#mb75)"/><rect x="456" y="80.54" width="86.4" height="2.01" fill="url(#mb76)"/><rect x="456" y="81.55" width="86.4" height="2.01" fill="url(#mb77)"/><rect x="456" y="82.55" width="86.4" height="2.01" fill="url(#mb78)"/><rect x="456" y="83.56" width="86.4" height="2.01" fill="url(#mb79)"/><rect x="456" y="84.57" width="86.4" height="2.01" fill="url(#mb80)"/><rect x="456" y="85.57" width="86.4" height="2.01" fill="url(#mb81)"/><rect x="456" y="86.58" width="86.4" height="2.01" fill="url(#mb82)"/><rect x="456" y="87.58" width="86.4" height="2.01" fill="url(#mb83)"/><rect x="456" y="88.59" width="86.4" height="2.01" fill="url(#mb84)"/><rect x="456" y="89.59" width="86.4" height="1.01" fill="url(#mb85)"/>
<filter id="fb1" x="-1" y="-1" width="3" height="3"><feGaussianBlur stdDeviation="4"/></filter><filter id="fb2" x="-1" y="-1" width="3" height="3"><feGaussianBlur stdDeviation="0.6"/></filter><filter id="fb3" x="-1" y="-1" width="3" height="3"><feGaussianBlur stdDeviation="1.8"/></filter><filter id="fb4" x="-1" y="-1" width="3" height="3"><feGaussianBlur stdDeviation="2.2"/></filter><filter id="fb5" x="-1" y="-1" width="3" height="3"><feGaussianBlur stdDeviation="2.5"/></filter><path d="M488.67,11.85 Q482.69,42.91 473.22,72.3 Q502.74,67.75 533.22,67.05 Q509.69,40.54 488.67,11.85 Z" fill="#ffffff" opacity="0.8" filter="url(#fb1)"/><path d="M488.88,24.14 Q487.08,47.7 477.76,67.67 Q498.31,61.62 520.96,63.89 Q502.2,46.38 488.88,24.14 Z" fill="#b8844a" opacity="0.55" filter="url(#fb5)"/><path d="M490.9,25.7 Q490.4,48.07 480.6,66.0 Q499.31,59.11 520.6,62.5 Q502.4,47.02 490.9,25.7 Z" fill="#b07a40" filter="url(#fb2)"/><path d="M492,32 Q492.23,48.45 486.5,62 Q501.68,58.77 519,61.5 Q503.6,48.27 492,32 Z" fill="#6a3408" filter="url(#fb3)"/><path d="M493.2,37 Q491.87,48.58 488,59 Q501.56,58.14 516,59.5 Q503.77,48.79 493.2,37 Z" fill="#1a0500" filter="url(#fb4)"/><circle cx="498.6" cy="52.3" r="2.7" fill="#f5e400"/>
</g>
<text x="485.6" y="14.2" font-size="10.9">20 μm</text><text transform="translate(467.2,59.1) rotate(-90)" font-size="10.9">20 μm</text><text x="460.2" y="83.6" font-size="11.8" font-weight="bold" font-style="italic">P</text><text x="467.8" y="87.9" font-size="7.4" font-style="italic">max</text><text transform="translate(486.3,83.7) scale(1.016,1)" font-size="11.8" font-weight="bold">= 100 mN</text>
<text transform="translate(12.4,162.6) rotate(-90) scale(1.07,1)" font-size="11.3">Raman intensity (a.u.)</text>
<text x="47.6" y="235.8" font-size="11.7" font-style="italic">red</text><polygon points="70,231.9 75,228.2 75,230.1 89.1,230.1 89.1,233.7 75,233.7 75,235.4" fill="#ff0000"/><polygon points="239.1,231.9 233.4,228.2 233.4,230.2 219.8,230.2 219.8,233.7 233.4,233.7 233.4,235.4" fill="#2a62ae"/><text x="244.5" y="235.8" font-size="11.7" font-style="italic">blue</text><text transform="translate(96.8,234) scale(1.055,1)" font-size="11.5">Raman shift, <tspan font-style="italic">ω</tspan> (cm<tspan dy="-4.5" font-size="8">-1</tspan><tspan dy="4.5">)</tspan></text>
<text transform="translate(365.7,234) scale(1.055,1)" font-size="11.5">Raman shift, <tspan font-style="italic">ω</tspan> (cm<tspan dy="-4.5" font-size="8">-1</tspan><tspan dy="4.5">)</tspan></text>
</svg></body></html>
